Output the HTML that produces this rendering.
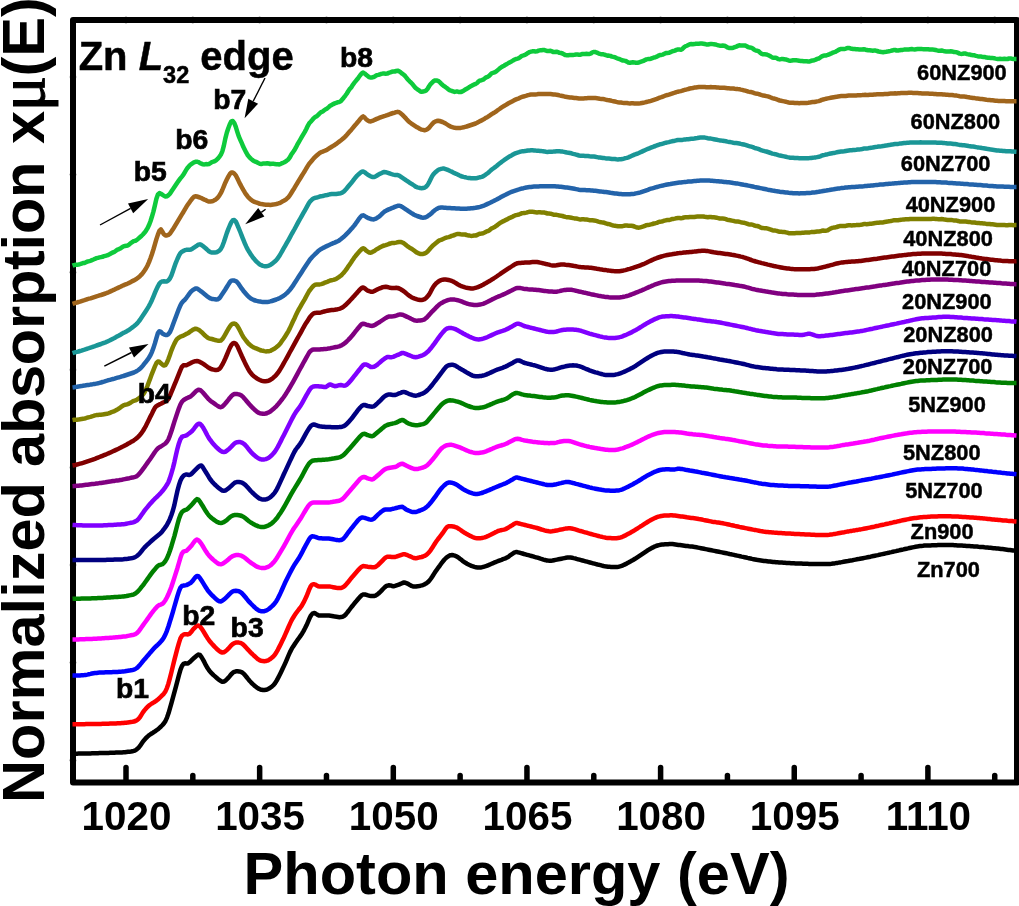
<!DOCTYPE html>
<html lang="en"><head><meta charset="utf-8"><title>Zn L32 edge XANES</title>
<style>
html,body{margin:0;padding:0;background:#fff;}
body{width:1019px;height:906px;overflow:hidden;}
svg{display:block;}
text{font-family:"Liberation Sans",Arial,Helvetica,sans-serif;font-weight:700;fill:#000;}
.tick{font-size:40.4px;text-anchor:middle;}
.ttl{font-size:59.55px;}
.lab{font-size:21.8px;stroke:#000;stroke-width:0.45px;}
.pk{font-size:28.3px;stroke:#000;stroke-width:0.7px;}
.curve{fill:none;stroke-linejoin:round;stroke-linecap:butt;}
</style></head><body>
<svg width="1019" height="906" viewBox="0 0 1019 906">
<rect x="0" y="0" width="1019" height="906" fill="#fff"/>
<rect x="73.0" y="20.0" width="944.0" height="762.6" fill="none" stroke="#000" stroke-width="6" stroke-linejoin="round"/>
<g stroke="#000" stroke-width="5.5" stroke-linecap="round"><line x1="126.00" y1="767.5" x2="126.00" y2="781" /><line x1="192.82" y1="775.5" x2="192.82" y2="781" /><line x1="259.65" y1="767.5" x2="259.65" y2="781" /><line x1="326.47" y1="775.5" x2="326.47" y2="781" /><line x1="393.30" y1="767.5" x2="393.30" y2="781" /><line x1="460.12" y1="775.5" x2="460.12" y2="781" /><line x1="526.95" y1="767.5" x2="526.95" y2="781" /><line x1="593.78" y1="775.5" x2="593.78" y2="781" /><line x1="660.60" y1="767.5" x2="660.60" y2="781" /><line x1="727.43" y1="775.5" x2="727.43" y2="781" /><line x1="794.25" y1="767.5" x2="794.25" y2="781" /><line x1="861.08" y1="775.5" x2="861.08" y2="781" /><line x1="927.90" y1="767.5" x2="927.90" y2="781" /><line x1="994.73" y1="775.5" x2="994.73" y2="781" /></g>
<g fill="#000"><circle cx="126.00" cy="20" r="3.2"/><circle cx="192.82" cy="20" r="3.2"/><circle cx="259.65" cy="20" r="3.2"/><circle cx="326.48" cy="20" r="3.2"/><circle cx="393.30" cy="20" r="3.2"/><circle cx="460.12" cy="20" r="3.2"/><circle cx="526.95" cy="20" r="3.2"/><circle cx="593.78" cy="20" r="3.2"/><circle cx="660.60" cy="20" r="3.2"/><circle cx="727.43" cy="20" r="3.2"/><circle cx="794.25" cy="20" r="3.2"/><circle cx="861.08" cy="20" r="3.2"/><circle cx="927.90" cy="20" r="3.2"/><circle cx="994.73" cy="20" r="3.2"/><circle cx="73" cy="77.0" r="3.2"/><circle cx="73" cy="174.6" r="3.2"/><circle cx="73" cy="272.2" r="3.2"/><circle cx="73" cy="369.8" r="3.2"/><circle cx="73" cy="467.4" r="3.2"/><circle cx="73" cy="565.0" r="3.2"/><circle cx="73" cy="662.6" r="3.2"/><circle cx="73" cy="760.2" r="3.2"/></g>
<path class="curve" d="M72.5,753.8 74.0,753.7 75.5,753.7 77.0,753.7 78.5,753.6 80.0,753.6 81.5,753.6 83.0,753.5 84.5,753.5 86.0,753.5 87.5,753.4 89.0,753.4 90.5,753.4 92.0,753.3 93.5,753.3 95.0,753.2 96.5,753.2 98.0,753.2 99.5,753.1 101.0,753.1 102.5,753.1 104.0,753.0 105.5,753.0 107.0,752.9 108.5,752.9 110.0,752.8 111.5,752.8 113.0,752.7 114.5,752.7 116.0,752.6 117.5,752.6 119.0,752.5 120.5,752.5 122.0,752.4 123.5,752.3 125.0,752.2 126.5,752.0 128.0,751.8 129.5,751.7 131.0,751.5 132.5,751.2 134.0,750.9 135.5,750.2 137.0,749.1 138.5,747.8 140.0,745.9 141.5,743.7 143.0,741.4 144.5,739.7 146.0,738.0 147.5,736.6 149.0,735.3 150.5,734.2 152.0,733.3 153.5,732.3 155.0,731.4 156.5,730.3 158.0,729.2 159.5,727.9 161.0,726.5 162.5,725.0 164.0,723.2 165.5,720.9 167.0,717.6 168.5,713.3 170.0,708.2 171.5,702.8 173.0,697.3 174.5,691.8 176.0,686.3 177.5,680.6 179.0,674.9 180.5,669.6 182.0,665.9 183.5,663.9 185.0,663.3 186.5,663.5 188.0,663.4 189.5,662.3 191.0,660.9 192.5,659.4 194.0,658.0 195.5,656.7 197.0,655.4 198.5,654.6 200.0,655.0 201.5,657.1 203.0,659.6 204.5,662.4 206.0,665.4 207.5,668.1 209.0,670.3 210.5,672.1 212.0,673.6 213.5,675.1 215.0,676.4 216.5,677.7 218.0,679.0 219.5,680.2 221.0,681.2 222.5,681.8 224.0,681.5 225.5,680.6 227.0,679.2 228.5,677.7 230.0,675.8 231.5,674.0 233.0,672.6 234.5,671.8 236.0,671.3 237.5,671.2 239.0,671.4 240.5,671.7 242.0,672.4 243.5,673.5 245.0,675.1 246.5,677.0 248.0,678.9 249.5,680.7 251.0,682.3 252.5,683.8 254.0,685.2 255.5,686.5 257.0,687.6 258.5,688.6 260.0,689.3 261.5,689.8 263.0,690.0 264.5,690.0 266.0,689.8 267.5,689.3 269.0,688.5 270.5,687.6 272.0,686.4 273.5,685.1 275.0,683.3 276.5,680.9 278.0,678.1 279.5,675.2 281.0,672.2 282.5,669.1 284.0,665.9 285.5,662.6 287.0,659.1 288.5,655.5 290.0,652.1 291.5,649.2 293.0,646.7 294.5,644.4 296.0,642.3 297.5,640.1 299.0,638.0 300.5,635.9 302.0,633.7 303.5,631.1 305.0,628.3 306.5,625.3 308.0,621.9 309.5,618.3 311.0,615.4 312.5,613.6 314.0,613.0 315.5,613.5 317.0,614.5 318.5,615.4 320.0,615.6 321.5,615.6 323.0,615.6 324.5,615.6 326.0,615.5 327.5,615.5 329.0,615.6 330.5,615.8 332.0,616.0 333.5,616.3 335.0,616.6 336.5,616.8 338.0,617.0 339.5,617.2 341.0,617.1 342.5,616.8 344.0,616.0 345.5,614.7 347.0,612.9 348.5,611.0 350.0,609.0 351.5,607.0 353.0,605.2 354.5,603.3 356.0,601.6 357.5,599.8 359.0,598.0 360.5,596.4 362.0,595.0 363.5,594.4 365.0,594.5 366.5,594.9 368.0,595.4 369.5,595.7 371.0,595.9 372.5,596.1 374.0,596.1 375.5,595.7 377.0,594.7 378.5,593.5 380.0,592.1 381.5,590.6 383.0,589.0 384.5,587.5 386.0,586.2 387.5,585.6 389.0,585.3 390.5,585.4 392.0,586.0 393.5,586.3 395.0,585.9 396.5,585.4 398.0,584.9 399.5,584.3 401.0,583.7 402.5,583.0 404.0,582.5 405.5,582.8 407.0,583.4 408.5,584.1 410.0,585.1 411.5,585.9 413.0,586.4 414.5,586.5 416.0,586.4 417.5,586.2 419.0,586.0 420.5,585.7 422.0,585.3 423.5,584.8 425.0,584.1 426.5,583.3 428.0,582.1 429.5,580.5 431.0,578.5 432.5,576.3 434.0,573.9 435.5,571.6 437.0,569.4 438.5,567.3 440.0,565.3 441.5,563.2 443.0,561.3 444.5,559.5 446.0,558.0 447.5,556.8 449.0,555.8 450.5,555.2 452.0,555.1 453.5,555.3 455.0,555.7 456.5,556.4 458.0,557.3 459.5,558.4 461.0,559.6 462.5,560.8 464.0,561.8 465.5,562.8 467.0,563.7 468.5,564.5 470.0,565.2 471.5,565.9 473.0,566.4 474.5,566.9 476.0,567.3 477.5,567.5 479.0,567.6 480.5,567.4 482.0,567.2 483.5,566.8 485.0,566.4 486.5,565.9 488.0,565.3 489.5,564.7 491.0,564.0 492.5,563.4 494.0,562.7 495.5,562.1 497.0,561.5 498.5,560.9 500.0,560.3 501.5,559.8 503.0,559.2 504.5,558.7 506.0,558.1 507.5,557.3 509.0,556.3 510.5,555.1 512.0,554.1 513.5,553.1 515.0,552.3 516.5,551.9 518.0,552.3 519.5,552.7 521.0,553.1 522.5,553.5 524.0,554.0 525.5,554.4 527.0,554.8 528.5,555.2 530.0,555.6 531.5,556.0 533.0,556.4 534.5,556.9 536.0,557.3 537.5,557.7 539.0,558.2 540.5,558.7 542.0,559.1 543.5,559.6 545.0,560.0 546.5,560.4 548.0,560.6 549.5,560.7 551.0,560.7 552.5,560.5 554.0,560.2 555.5,559.9 557.0,559.6 558.5,559.3 560.0,559.0 561.5,558.7 563.0,558.4 564.5,558.1 566.0,557.8 567.5,557.6 569.0,557.5 570.5,557.5 572.0,557.7 573.5,558.1 575.0,558.4 576.5,558.9 578.0,559.3 579.5,559.7 581.0,560.1 582.5,560.5 584.0,560.9 585.5,561.3 587.0,561.7 588.5,562.1 590.0,562.5 591.5,562.9 593.0,563.3 594.5,563.7 596.0,564.1 597.5,564.5 599.0,564.8 600.5,565.2 602.0,565.6 603.5,566.0 605.0,566.3 606.5,566.5 608.0,566.7 609.5,566.8 611.0,566.9 612.5,567.0 614.0,567.0 615.5,567.0 617.0,566.9 618.5,566.7 620.0,566.4 621.5,565.9 623.0,565.3 624.5,564.6 626.0,563.9 627.5,563.1 629.0,562.3 630.5,561.4 632.0,560.6 633.5,559.7 635.0,558.8 636.5,557.8 638.0,556.8 639.5,555.8 641.0,554.8 642.5,553.8 644.0,552.8 645.5,551.8 647.0,550.8 648.5,549.9 650.0,549.0 651.5,548.1 653.0,547.4 654.5,546.6 656.0,546.0 657.5,545.5 659.0,545.1 660.5,544.8 662.0,544.6 663.5,544.4 665.0,544.3 666.5,544.2 668.0,544.2 669.5,544.1 671.0,544.1 672.5,544.1 674.0,544.3 675.5,544.5 677.0,544.7 678.5,544.9 680.0,545.1 681.5,545.3 683.0,545.5 684.5,545.7 686.0,545.9 687.5,546.1 689.0,546.3 690.5,546.4 692.0,546.6 693.5,546.8 695.0,547.1 696.5,547.3 698.0,547.6 699.5,547.9 701.0,548.2 702.5,548.5 704.0,548.8 705.5,549.1 707.0,549.4 708.5,549.7 710.0,550.0 711.5,550.3 713.0,550.6 714.5,550.9 716.0,551.2 717.5,551.5 719.0,551.8 720.5,552.1 722.0,552.4 723.5,552.7 725.0,553.0 726.5,553.3 728.0,553.6 729.5,554.0 731.0,554.3 732.5,554.6 734.0,554.9 735.5,555.3 737.0,555.6 738.5,555.9 740.0,556.2 741.5,556.6 743.0,556.9 744.5,557.2 746.0,557.5 747.5,557.9 749.0,558.2 750.5,558.5 752.0,558.9 753.5,559.2 755.0,559.5 756.5,559.8 758.0,560.1 759.5,560.3 761.0,560.5 762.5,560.7 764.0,560.9 765.5,561.0 767.0,561.2 768.5,561.4 770.0,561.5 771.5,561.7 773.0,561.9 774.5,562.0 776.0,562.2 777.5,562.3 779.0,562.4 780.5,562.5 782.0,562.6 783.5,562.7 785.0,562.8 786.5,562.9 788.0,563.0 789.5,563.1 791.0,563.2 792.5,563.2 794.0,563.3 795.5,563.4 797.0,563.5 798.5,563.5 800.0,563.6 801.5,563.6 803.0,563.7 804.5,563.7 806.0,563.8 807.5,563.8 809.0,563.9 810.5,563.9 812.0,563.9 813.5,563.9 815.0,564.0 816.5,564.0 818.0,564.0 819.5,564.0 821.0,564.0 822.5,564.1 824.0,564.1 825.5,564.1 827.0,564.1 828.5,564.0 830.0,563.9 831.5,563.8 833.0,563.6 834.5,563.4 836.0,563.1 837.5,562.9 839.0,562.6 840.5,562.4 842.0,562.1 843.5,561.8 845.0,561.5 846.5,561.2 848.0,561.0 849.5,560.7 851.0,560.4 852.5,560.2 854.0,559.9 855.5,559.6 857.0,559.3 858.5,559.1 860.0,558.8 861.5,558.5 863.0,558.2 864.5,557.9 866.0,557.6 867.5,557.3 869.0,557.0 870.5,556.7 872.0,556.3 873.5,556.0 875.0,555.7 876.5,555.4 878.0,555.1 879.5,554.7 881.0,554.4 882.5,554.1 884.0,553.8 885.5,553.4 887.0,553.1 888.5,552.8 890.0,552.4 891.5,552.1 893.0,551.7 894.5,551.4 896.0,551.1 897.5,550.7 899.0,550.4 900.5,550.0 902.0,549.7 903.5,549.4 905.0,549.0 906.5,548.7 908.0,548.4 909.5,548.0 911.0,547.7 912.5,547.4 914.0,547.1 915.5,546.8 917.0,546.6 918.5,546.3 920.0,546.1 921.5,545.9 923.0,545.8 924.5,545.6 926.0,545.5 927.5,545.5 929.0,545.4 930.5,545.4 932.0,545.3 933.5,545.3 935.0,545.2 936.5,545.2 938.0,545.1 939.5,545.1 941.0,545.0 942.5,545.0 944.0,545.0 945.5,545.0 947.0,545.0 948.5,545.0 950.0,545.0 951.5,545.1 953.0,545.1 954.5,545.2 956.0,545.3 957.5,545.4 959.0,545.4 960.5,545.5 962.0,545.6 963.5,545.7 965.0,545.8 966.5,545.9 968.0,546.0 969.5,546.1 971.0,546.2 972.5,546.3 974.0,546.4 975.5,546.5 977.0,546.6 978.5,546.8 980.0,546.9 981.5,547.0 983.0,547.1 984.5,547.3 986.0,547.4 987.5,547.5 989.0,547.7 990.5,547.8 992.0,548.0 993.5,548.2 995.0,548.3 996.5,548.5 998.0,548.6 999.5,548.8 1001.0,549.0 1002.5,549.1 1004.0,549.3 1005.5,549.5 1007.0,549.7 1008.5,549.9 1010.0,550.0 1011.5,550.2 1013.0,550.4 1014.5,550.6 1016.0,550.8" stroke="#000000" stroke-width="4.5"/>
<path class="curve" d="M72.5,724.2 74.0,724.2 75.5,724.2 77.0,724.2 78.5,724.2 80.0,724.2 81.5,724.2 83.0,724.2 84.5,724.2 86.0,724.1 87.5,724.1 89.0,724.1 90.5,724.1 92.0,724.0 93.5,724.0 95.0,724.0 96.5,724.0 98.0,723.9 99.5,723.9 101.0,723.9 102.5,723.8 104.0,723.8 105.5,723.8 107.0,723.7 108.5,723.7 110.0,723.6 111.5,723.6 113.0,723.5 114.5,723.4 116.0,723.4 117.5,723.3 119.0,723.3 120.4,723.2 121.9,723.1 123.4,723.0 124.9,722.8 126.4,722.7 127.9,722.4 129.4,722.2 130.9,722.0 132.4,721.8 133.9,721.5 135.4,721.0 136.9,720.2 138.4,719.0 139.9,717.3 141.4,714.9 142.9,712.4 144.4,710.4 145.9,708.6 147.4,707.0 148.9,705.6 150.4,704.5 151.9,703.5 153.4,702.6 154.9,701.7 156.4,700.6 157.9,699.5 159.4,698.1 160.9,696.7 162.4,695.2 163.9,693.6 165.4,691.4 166.9,688.1 168.4,683.7 169.9,678.2 171.4,672.2 172.9,666.0 174.4,659.9 175.9,654.1 177.4,648.4 178.9,643.1 180.4,638.4 181.9,635.8 183.4,634.7 184.9,634.2 186.4,634.3 187.9,634.4 189.4,633.9 190.9,632.3 192.4,630.3 193.9,628.6 195.4,627.1 196.9,625.8 198.4,625.4 199.9,626.3 201.4,628.3 202.9,630.6 204.4,633.0 205.9,635.5 207.4,637.9 208.9,640.1 210.4,642.1 211.9,643.8 213.4,645.4 214.8,646.9 216.3,648.3 217.8,649.8 219.3,651.1 220.8,652.0 222.3,652.5 223.8,652.3 225.3,651.4 226.8,650.1 228.3,648.7 229.8,647.0 231.3,645.3 232.8,644.0 234.3,643.1 235.8,642.6 237.3,642.5 238.8,642.6 240.3,642.9 241.8,643.5 243.3,644.6 244.8,646.1 246.3,647.7 247.8,649.4 249.3,651.0 250.8,652.6 252.3,654.0 253.8,655.5 255.3,656.8 256.8,658.2 258.3,659.4 259.8,660.3 261.3,660.8 262.8,661.1 264.3,661.2 265.8,661.1 267.3,660.7 268.8,659.9 270.3,659.0 271.8,657.8 273.3,656.5 274.8,654.8 276.3,652.5 277.8,649.8 279.3,646.9 280.8,643.9 282.3,640.8 283.8,637.7 285.3,634.4 286.8,631.0 288.3,627.5 289.8,624.1 291.3,620.9 292.8,618.2 294.3,615.8 295.8,613.6 297.3,611.5 298.8,609.5 300.3,607.7 301.8,605.6 303.3,602.9 304.8,599.9 306.3,596.8 307.8,593.2 309.2,589.4 310.7,586.3 312.2,584.6 313.7,584.2 315.2,584.6 316.7,585.4 318.2,586.2 319.7,586.5 321.2,586.5 322.7,586.5 324.2,586.5 325.7,586.4 327.2,586.4 328.7,586.5 330.2,586.6 331.7,586.9 333.2,587.2 334.7,587.5 336.2,587.8 337.7,588.0 339.2,588.1 340.7,588.0 342.2,587.6 343.7,586.8 345.2,585.5 346.7,583.8 348.2,582.0 349.7,580.1 351.2,578.2 352.7,576.4 354.2,574.7 355.7,573.0 357.2,571.3 358.7,569.6 360.2,568.0 361.7,566.8 363.2,566.1 364.7,566.2 366.2,566.4 367.7,566.7 369.2,566.9 370.7,567.1 372.2,567.3 373.7,567.3 375.2,567.0 376.7,566.1 378.2,564.9 379.7,563.4 381.2,561.9 382.7,560.4 384.2,558.8 385.7,557.5 387.2,556.8 388.7,556.7 390.2,556.7 391.7,556.9 393.2,557.1 394.7,557.1 396.2,556.7 397.7,556.1 399.2,555.6 400.7,555.1 402.2,554.6 403.6,554.2 405.1,554.3 406.6,554.8 408.1,555.5 409.6,556.1 411.1,556.8 412.6,557.5 414.1,558.1 415.6,558.3 417.1,558.0 418.6,557.6 420.1,557.3 421.6,557.0 423.1,556.5 424.6,555.9 426.1,555.1 427.6,553.8 429.1,552.2 430.6,550.3 432.1,548.1 433.6,545.6 435.1,543.2 436.6,541.0 438.1,539.0 439.6,537.1 441.1,535.2 442.6,533.2 444.1,531.0 445.6,528.8 447.1,527.1 448.6,526.3 450.1,526.2 451.6,526.3 453.1,526.5 454.6,526.8 456.1,527.3 457.6,528.1 459.1,529.0 460.6,530.0 462.1,531.1 463.6,532.1 465.1,533.1 466.6,533.9 468.1,534.8 469.6,535.6 471.1,536.3 472.6,537.0 474.1,537.6 475.6,538.0 477.1,538.2 478.6,538.3 480.1,538.2 481.6,538.0 483.1,537.7 484.6,537.3 486.1,536.8 487.6,536.2 489.1,535.5 490.6,534.8 492.1,534.0 493.6,533.2 495.1,532.4 496.6,531.7 498.0,531.0 499.5,530.6 501.0,530.2 502.5,529.9 504.0,529.6 505.5,529.1 507.0,528.4 508.5,527.5 510.0,526.5 511.5,525.6 513.0,524.7 514.5,523.7 516.0,523.0 517.5,523.1 519.0,523.5 520.5,523.9 522.0,524.3 523.5,524.6 525.0,525.0 526.5,525.4 528.0,525.8 529.5,526.1 531.0,526.5 532.5,526.9 534.0,527.3 535.5,527.6 537.0,528.0 538.5,528.5 540.0,529.0 541.5,529.5 543.0,529.9 544.5,530.4 546.0,530.8 547.5,531.1 549.0,531.3 550.5,531.4 552.0,531.3 553.5,531.1 555.0,530.8 556.5,530.5 558.0,530.2 559.5,529.8 561.0,529.6 562.5,529.3 564.0,528.9 565.5,528.6 567.0,528.4 568.5,528.3 570.0,528.3 571.5,528.5 573.0,528.8 574.5,529.2 576.0,529.6 577.5,530.1 579.0,530.6 580.5,531.0 582.0,531.4 583.5,531.9 585.0,532.3 586.5,532.7 588.0,533.2 589.5,533.6 591.0,534.0 592.4,534.4 593.9,534.8 595.4,535.2 596.9,535.6 598.4,536.0 599.9,536.4 601.4,536.7 602.9,537.1 604.4,537.4 605.9,537.7 607.4,537.9 608.9,538.0 610.4,538.1 611.9,538.2 613.4,538.2 614.9,538.3 616.4,538.2 617.9,538.0 619.4,537.8 620.9,537.4 622.4,536.8 623.9,536.1 625.4,535.4 626.9,534.6 628.4,533.8 629.9,533.0 631.4,532.1 632.9,531.3 634.4,530.4 635.9,529.4 637.4,528.5 638.9,527.5 640.4,526.5 641.9,525.6 643.4,524.6 644.9,523.6 646.4,522.7 647.9,521.8 649.4,520.9 650.9,520.0 652.4,519.2 653.9,518.5 655.4,517.8 656.9,517.2 658.4,516.7 659.9,516.3 661.4,516.0 662.9,515.8 664.4,515.6 665.9,515.5 667.4,515.4 668.9,515.4 670.4,515.3 671.9,515.3 673.4,515.5 674.9,515.6 676.4,515.8 677.9,516.0 679.4,516.2 680.9,516.4 682.4,516.6 683.9,516.8 685.4,517.0 686.8,517.3 688.3,517.5 689.8,517.7 691.3,517.9 692.8,518.1 694.3,518.3 695.8,518.5 697.3,518.7 698.8,519.0 700.3,519.2 701.8,519.5 703.3,519.9 704.8,520.2 706.3,520.5 707.8,520.8 709.3,521.1 710.8,521.4 712.3,521.7 713.8,521.9 715.3,522.1 716.8,522.4 718.3,522.6 719.8,522.8 721.3,523.1 722.8,523.3 724.3,523.6 725.8,523.9 727.3,524.2 728.8,524.5 730.3,524.9 731.8,525.2 733.3,525.5 734.8,525.9 736.3,526.2 737.8,526.5 739.3,526.9 740.8,527.2 742.3,527.5 743.8,527.8 745.3,528.1 746.8,528.4 748.3,528.7 749.8,529.0 751.3,529.3 752.8,529.6 754.3,529.9 755.8,530.1 757.3,530.4 758.8,530.7 760.3,531.0 761.8,531.2 763.3,531.5 764.8,531.7 766.3,531.9 767.8,532.0 769.3,532.2 770.8,532.3 772.3,532.4 773.8,532.6 775.3,532.7 776.8,532.8 778.3,532.9 779.8,533.0 781.2,533.1 782.7,533.2 784.2,533.3 785.7,533.4 787.2,533.4 788.7,533.5 790.2,533.6 791.7,533.7 793.2,533.8 794.7,533.9 796.2,533.9 797.7,534.0 799.2,534.1 800.7,534.2 802.2,534.3 803.7,534.3 805.2,534.4 806.7,534.5 808.2,534.6 809.7,534.6 811.2,534.7 812.7,534.8 814.2,534.8 815.7,534.9 817.2,534.9 818.7,535.0 820.2,535.0 821.7,535.1 823.2,535.1 824.7,535.1 826.2,535.0 827.7,534.9 829.2,534.8 830.7,534.6 832.2,534.4 833.7,534.1 835.2,533.9 836.7,533.6 838.2,533.3 839.7,533.0 841.2,532.7 842.7,532.4 844.2,532.2 845.7,531.9 847.2,531.6 848.7,531.4 850.2,531.1 851.7,530.9 853.2,530.6 854.7,530.4 856.2,530.1 857.7,529.9 859.2,529.6 860.7,529.4 862.2,529.1 863.7,528.8 865.2,528.5 866.7,528.2 868.2,527.9 869.7,527.6 871.2,527.3 872.7,527.0 874.2,526.7 875.6,526.3 877.1,526.0 878.6,525.7 880.1,525.3 881.6,525.0 883.1,524.7 884.6,524.4 886.1,524.0 887.6,523.7 889.1,523.4 890.6,523.0 892.1,522.7 893.6,522.3 895.1,522.0 896.6,521.7 898.1,521.3 899.6,521.0 901.1,520.6 902.6,520.3 904.1,520.0 905.6,519.7 907.1,519.4 908.6,519.1 910.1,518.8 911.6,518.5 913.1,518.3 914.6,518.1 916.1,517.9 917.6,517.7 919.1,517.5 920.6,517.3 922.1,517.2 923.6,517.1 925.1,517.0 926.6,516.9 928.1,516.8 929.6,516.7 931.1,516.6 932.6,516.6 934.1,516.5 935.6,516.4 937.1,516.4 938.6,516.3 940.1,516.3 941.6,516.2 943.1,516.2 944.6,516.2 946.1,516.2 947.6,516.2 949.1,516.3 950.6,516.3 952.1,516.4 953.6,516.4 955.1,516.5 956.6,516.6 958.1,516.6 959.6,516.7 961.1,516.8 962.6,516.9 964.1,517.0 965.6,517.1 967.1,517.2 968.6,517.3 970.0,517.4 971.5,517.5 973.0,517.6 974.5,517.7 976.0,517.8 977.5,517.9 979.0,518.0 980.5,518.2 982.0,518.3 983.5,518.4 985.0,518.6 986.5,518.7 988.0,518.9 989.5,519.0 991.0,519.2 992.5,519.4 994.0,519.5 995.5,519.7 997.0,519.8 998.5,520.0 1000.0,520.1 1001.5,520.2 1003.0,520.4 1004.5,520.5 1006.0,520.6 1007.5,520.8 1009.0,520.9 1010.5,521.0 1012.0,521.1 1013.5,521.3 1015.0,521.4 1016.5,521.5" stroke="#ff0000" stroke-width="4.5"/>
<path class="curve" d="M72.5,675.5 74.0,675.5 75.5,675.6 77.0,675.6 78.5,675.5 80.0,675.4 81.5,675.3 83.0,675.2 84.5,675.1 86.0,674.9 87.5,674.6 89.0,674.2 90.5,673.9 92.0,673.5 93.5,673.2 95.0,673.0 96.5,672.9 98.0,672.7 99.5,672.6 101.0,672.5 102.5,672.5 104.0,672.4 105.5,672.3 107.0,672.3 108.5,672.2 110.0,672.2 111.5,672.2 113.0,672.1 114.5,672.0 116.0,672.0 117.5,671.9 119.0,671.8 120.4,671.7 121.9,671.6 123.4,671.4 124.9,671.3 126.4,671.0 127.9,670.8 129.4,670.6 130.9,670.3 132.4,670.0 133.9,669.6 135.4,669.0 136.9,668.0 138.4,666.6 139.9,664.9 141.4,663.1 142.9,661.2 144.4,659.4 145.9,657.7 147.4,655.9 148.9,654.2 150.4,652.4 151.9,650.7 153.4,649.0 154.9,647.4 156.4,646.0 157.9,644.6 159.4,643.1 160.9,641.5 162.4,639.7 163.9,637.4 165.4,634.5 166.9,630.8 168.4,626.5 169.9,621.7 171.4,616.8 172.9,611.8 174.4,606.5 175.9,601.3 177.4,596.2 178.9,591.4 180.4,587.7 181.9,586.0 183.4,585.6 184.9,585.4 186.4,585.1 187.9,584.4 189.4,583.6 190.9,582.7 192.4,581.2 193.9,579.1 195.4,577.3 196.9,576.0 198.4,576.3 199.9,578.0 201.4,580.2 202.9,582.6 204.4,585.1 205.9,587.5 207.4,589.8 208.9,591.8 210.4,593.5 211.9,595.1 213.4,596.5 214.8,597.9 216.3,599.2 217.8,600.4 219.3,601.2 220.8,601.4 222.3,600.7 223.8,599.7 225.3,598.3 226.8,596.9 228.3,595.4 229.8,593.8 231.3,592.4 232.8,591.4 234.3,590.9 235.8,590.7 237.3,590.9 238.8,591.2 240.3,592.0 241.8,593.1 243.3,594.7 244.8,596.5 246.3,598.3 247.8,600.2 249.3,601.9 250.8,603.5 252.3,605.0 253.8,606.5 255.3,607.9 256.8,609.2 258.3,610.2 259.8,610.9 261.3,611.2 262.8,611.3 264.3,611.2 265.8,610.7 267.3,610.0 268.8,609.0 270.3,607.7 271.8,606.4 273.3,605.0 274.8,603.3 276.3,601.2 277.8,598.6 279.3,595.6 280.8,592.4 282.3,589.0 283.8,585.6 285.3,582.3 286.8,579.2 288.3,576.2 289.8,573.3 291.3,570.4 292.8,567.7 294.3,565.0 295.8,562.8 297.3,560.6 298.8,558.3 300.3,555.7 301.8,552.9 303.3,549.9 304.8,547.1 306.3,544.3 307.8,541.7 309.2,539.2 310.7,537.2 312.2,536.3 313.7,536.4 315.2,536.8 316.7,537.4 318.2,538.0 319.7,538.2 321.2,538.3 322.7,538.4 324.2,538.4 325.7,538.4 327.2,538.5 328.7,538.6 330.2,538.8 331.7,539.0 333.2,539.3 334.7,539.6 336.2,539.9 337.7,540.1 339.2,540.2 340.7,540.1 342.2,539.6 343.7,538.4 345.2,536.6 346.7,534.6 348.2,532.5 349.7,530.6 351.2,528.7 352.7,526.8 354.2,524.9 355.7,523.1 357.2,521.3 358.7,519.6 360.2,518.3 361.7,517.6 363.2,517.6 364.7,517.9 366.2,518.4 367.7,518.8 369.2,519.3 370.7,519.7 372.2,519.6 373.7,518.8 375.2,517.3 376.7,515.8 378.2,514.4 379.7,513.1 381.2,511.8 382.7,510.7 384.2,509.8 385.7,509.5 387.2,509.5 388.7,509.6 390.2,509.5 391.7,509.1 393.2,508.7 394.7,508.4 396.2,508.0 397.7,507.6 399.2,507.2 400.7,506.9 402.2,506.8 403.6,507.6 405.1,508.8 406.6,509.7 408.1,510.4 409.6,511.0 411.1,511.6 412.6,512.0 414.1,512.1 415.6,512.0 417.1,511.6 418.6,511.0 420.1,510.5 421.6,509.9 423.1,509.2 424.6,508.5 426.1,507.4 427.6,506.1 429.1,504.5 430.6,502.8 432.1,500.9 433.6,498.9 435.1,496.9 436.6,494.7 438.1,492.6 439.6,490.5 441.1,488.6 442.6,487.0 444.1,485.5 445.6,484.2 447.1,483.2 448.6,482.6 450.1,482.5 451.6,482.7 453.1,483.1 454.6,483.7 456.1,484.4 457.6,485.3 459.1,486.4 460.6,487.4 462.1,488.5 463.6,489.4 465.1,490.2 466.6,491.0 468.1,491.7 469.6,492.4 471.1,492.9 472.6,493.4 474.1,493.8 475.6,494.0 477.1,494.0 478.6,493.8 480.1,493.4 481.6,493.0 483.1,492.5 484.6,491.9 486.1,491.3 487.6,490.7 489.1,490.1 490.6,489.4 492.1,488.8 493.6,488.1 495.1,487.5 496.6,486.9 498.0,486.3 499.5,485.7 501.0,485.1 502.5,484.5 504.0,483.9 505.5,483.3 507.0,482.6 508.5,481.8 510.0,480.9 511.5,480.0 513.0,479.2 514.5,478.2 516.0,477.5 517.5,477.6 519.0,478.0 520.5,478.4 522.0,478.8 523.5,479.1 525.0,479.5 526.5,479.9 528.0,480.3 529.5,480.6 531.0,481.0 532.5,481.4 534.0,481.8 535.5,482.1 537.0,482.5 538.5,482.9 540.0,483.3 541.5,483.6 543.0,484.0 544.5,484.4 546.0,484.7 547.5,485.0 549.0,485.1 550.5,485.1 552.0,485.1 553.5,484.8 555.0,484.5 556.5,484.2 558.0,483.8 559.5,483.4 561.0,483.1 562.5,482.7 564.0,482.4 565.5,482.1 567.0,481.9 568.5,482.0 570.0,482.3 571.5,482.6 573.0,483.0 574.5,483.3 576.0,483.8 577.5,484.2 579.0,484.6 580.5,485.0 582.0,485.4 583.5,485.8 585.0,486.2 586.5,486.6 588.0,487.0 589.5,487.4 591.0,487.7 592.4,488.1 593.9,488.4 595.4,488.7 596.9,489.0 598.4,489.3 599.9,489.6 601.4,489.8 602.9,490.1 604.4,490.3 605.9,490.4 607.4,490.6 608.9,490.6 610.4,490.7 611.9,490.7 613.4,490.8 614.9,490.7 616.4,490.6 617.9,490.5 619.4,490.2 620.9,489.8 622.4,489.3 623.9,488.7 625.4,488.0 626.9,487.3 628.4,486.6 629.9,485.8 631.4,485.0 632.9,484.2 634.4,483.3 635.9,482.5 637.4,481.6 638.9,480.7 640.4,479.8 641.9,478.8 643.4,477.9 644.9,477.0 646.4,476.1 647.9,475.3 649.4,474.5 650.9,473.7 652.4,472.9 653.9,472.2 655.4,471.6 656.9,471.0 658.4,470.5 659.9,470.0 661.4,469.7 662.9,469.5 664.4,469.4 665.9,469.3 667.4,469.2 668.9,469.3 670.4,469.4 671.9,469.5 673.4,469.5 674.9,469.4 676.4,469.1 677.9,468.8 679.4,468.7 680.9,468.9 682.4,469.1 683.9,469.4 685.4,469.7 686.8,469.9 688.3,470.2 689.8,470.5 691.3,470.7 692.8,471.0 694.3,471.3 695.8,471.6 697.3,471.8 698.8,472.1 700.3,472.4 701.8,472.7 703.3,472.9 704.8,473.2 706.3,473.5 707.8,473.8 709.3,474.1 710.8,474.4 712.3,474.7 713.8,475.0 715.3,475.3 716.8,475.6 718.3,475.9 719.8,476.2 721.3,476.5 722.8,476.8 724.3,477.0 725.8,477.3 727.3,477.5 728.8,477.8 730.3,478.1 731.8,478.3 733.3,478.5 734.8,478.8 736.3,479.0 737.8,479.2 739.3,479.5 740.8,479.7 742.3,480.0 743.8,480.2 745.3,480.5 746.8,480.8 748.3,481.1 749.8,481.4 751.3,481.8 752.8,482.1 754.3,482.4 755.8,482.6 757.3,482.9 758.8,483.2 760.3,483.4 761.8,483.7 763.3,483.9 764.8,484.1 766.3,484.3 767.8,484.5 769.3,484.7 770.8,484.9 772.3,485.0 773.8,485.1 775.3,485.2 776.8,485.3 778.3,485.4 779.8,485.5 781.2,485.6 782.7,485.6 784.2,485.7 785.7,485.8 787.2,485.8 788.7,485.9 790.2,485.9 791.7,486.0 793.2,486.0 794.7,486.1 796.2,486.1 797.7,486.1 799.2,486.1 800.7,486.2 802.2,486.2 803.7,486.2 805.2,486.3 806.7,486.3 808.2,486.3 809.7,486.4 811.2,486.5 812.7,486.5 814.2,486.6 815.7,486.6 817.2,486.7 818.7,486.7 820.2,486.8 821.7,486.8 823.2,486.8 824.7,486.8 826.2,486.8 827.7,486.7 829.2,486.6 830.7,486.4 832.2,486.1 833.7,485.8 835.2,485.6 836.7,485.3 838.2,484.9 839.7,484.6 841.2,484.3 842.7,484.0 844.2,483.7 845.7,483.4 847.2,483.1 848.7,482.8 850.2,482.6 851.7,482.3 853.2,482.0 854.7,481.7 856.2,481.5 857.7,481.2 859.2,480.9 860.7,480.6 862.2,480.3 863.7,480.1 865.2,479.8 866.7,479.5 868.2,479.2 869.7,478.9 871.2,478.7 872.7,478.4 874.2,478.1 875.6,477.8 877.1,477.5 878.6,477.3 880.1,477.0 881.6,476.7 883.1,476.4 884.6,476.1 886.1,475.8 887.6,475.5 889.1,475.2 890.6,474.9 892.1,474.6 893.6,474.2 895.1,473.9 896.6,473.6 898.1,473.3 899.6,472.9 901.1,472.6 902.6,472.3 904.1,472.0 905.6,471.7 907.1,471.4 908.6,471.1 910.1,470.8 911.6,470.5 913.1,470.2 914.6,470.0 916.1,469.8 917.6,469.6 919.1,469.5 920.6,469.4 922.1,469.3 923.6,469.2 925.1,469.1 926.6,469.0 928.1,469.0 929.6,468.9 931.1,468.9 932.6,468.8 934.1,468.7 935.6,468.7 937.1,468.6 938.6,468.6 940.1,468.5 941.6,468.5 943.1,468.4 944.6,468.4 946.1,468.3 947.6,468.3 949.1,468.2 950.6,468.2 952.1,468.2 953.6,468.2 955.1,468.3 956.6,468.3 958.1,468.4 959.6,468.4 961.1,468.5 962.6,468.6 964.1,468.8 965.6,468.9 967.1,469.0 968.6,469.2 970.0,469.3 971.5,469.5 973.0,469.6 974.5,469.8 976.0,469.9 977.5,470.1 979.0,470.2 980.5,470.4 982.0,470.6 983.5,470.7 985.0,470.9 986.5,471.1 988.0,471.3 989.5,471.4 991.0,471.6 992.5,471.8 994.0,471.9 995.5,472.1 997.0,472.3 998.5,472.4 1000.0,472.6 1001.5,472.8 1003.0,472.9 1004.5,473.1 1006.0,473.2 1007.5,473.4 1009.0,473.5 1010.5,473.7 1012.0,473.8 1013.5,474.0 1015.0,474.1 1016.5,474.2" stroke="#0000ff" stroke-width="4.5"/>
<path class="curve" d="M72.5,639.5 74.0,639.5 75.5,639.4 77.0,639.4 78.5,639.4 80.0,639.3 81.5,639.3 83.0,639.2 84.5,639.2 86.0,639.1 87.5,639.1 89.0,639.0 90.5,638.9 92.0,638.9 93.5,638.8 95.0,638.8 96.5,638.7 98.0,638.6 99.5,638.5 101.0,638.4 102.5,638.3 104.0,638.2 105.5,638.1 107.0,638.0 108.5,637.9 110.0,637.8 111.5,637.7 113.0,637.6 114.5,637.4 116.0,637.3 117.5,637.2 119.0,637.1 120.4,637.0 121.9,636.8 123.4,636.6 124.9,636.4 126.4,636.2 127.9,635.9 129.4,635.6 130.9,635.3 132.4,635.0 133.9,634.7 135.4,634.2 136.9,633.2 138.4,631.7 139.9,629.6 141.4,627.5 142.9,625.4 144.4,623.3 145.9,621.2 147.4,619.1 148.9,617.0 150.4,614.9 151.9,612.8 153.4,610.9 154.9,609.1 156.4,607.4 157.9,605.9 159.4,605.0 160.9,604.6 162.4,603.8 163.9,602.3 165.4,600.2 166.9,597.5 168.4,594.3 169.9,590.7 171.4,586.7 172.9,582.2 174.4,577.6 175.9,572.9 177.4,568.2 178.9,563.0 180.4,557.8 181.9,553.6 183.4,551.6 184.9,551.2 186.4,550.8 187.9,549.4 189.4,547.9 190.9,546.3 192.4,544.3 193.9,542.2 195.4,540.4 196.9,539.6 198.4,540.3 199.9,541.9 201.4,543.9 202.9,546.3 204.4,548.8 205.9,551.3 207.4,553.6 208.9,555.4 210.4,557.1 211.9,558.5 213.4,559.9 214.8,561.1 216.3,562.3 217.8,563.4 219.3,564.1 220.8,564.3 222.3,563.9 223.8,563.0 225.3,561.9 226.8,560.8 228.3,559.5 229.8,558.1 231.3,556.9 232.8,556.1 234.3,555.5 235.8,555.1 237.3,555.0 238.8,555.1 240.3,555.4 241.8,555.9 243.3,556.7 244.8,557.8 246.3,559.0 247.8,560.3 249.3,561.5 250.8,562.6 252.3,563.7 253.8,564.7 255.3,565.7 256.8,566.6 258.3,567.2 259.8,567.6 261.3,567.9 262.8,568.0 264.3,568.0 265.8,567.7 267.3,567.2 268.8,566.5 270.3,565.5 271.8,564.2 273.3,562.7 274.8,560.9 276.3,558.8 277.8,556.4 279.3,553.9 280.8,551.4 282.3,548.9 283.8,546.3 285.3,543.7 286.8,540.9 288.3,538.1 289.8,535.3 291.3,532.6 292.8,530.1 294.3,527.8 295.8,525.7 297.3,523.5 298.8,521.3 300.3,519.1 301.8,516.6 303.3,514.0 304.8,511.5 306.3,509.0 307.8,506.7 309.2,504.9 310.7,503.5 312.2,502.7 313.7,502.5 315.2,502.5 316.7,502.5 318.2,502.5 319.7,502.5 321.2,502.5 322.7,502.5 324.2,502.5 325.7,502.5 327.2,502.5 328.7,502.4 330.2,502.3 331.7,502.1 333.2,501.8 334.7,501.6 336.2,501.3 337.7,501.0 339.2,500.7 340.7,500.1 342.2,499.3 343.7,497.9 345.2,496.2 346.7,494.5 348.2,492.7 349.7,491.0 351.2,489.2 352.7,487.5 354.2,485.7 355.7,484.0 357.2,482.2 358.7,480.5 360.2,478.8 361.7,477.7 363.2,477.1 364.7,477.1 366.2,477.7 367.7,478.4 369.2,478.8 370.7,479.2 372.2,479.4 373.7,478.8 375.2,477.6 376.7,476.3 378.2,475.0 379.7,473.7 381.2,472.3 382.7,470.9 384.2,469.7 385.7,468.9 387.2,468.4 388.7,468.0 390.2,467.7 391.7,467.5 393.2,467.3 394.7,467.1 396.2,466.6 397.7,465.7 399.2,464.7 400.7,463.9 402.2,463.7 403.6,464.2 405.1,465.0 406.6,465.8 408.1,466.5 409.6,467.2 411.1,467.8 412.6,468.4 414.1,468.9 415.6,469.0 417.1,469.0 418.6,468.7 420.1,468.3 421.6,467.9 423.1,467.5 424.6,466.9 426.1,466.1 427.6,464.9 429.1,463.4 430.6,461.7 432.1,460.0 433.6,458.2 435.1,456.3 436.6,454.3 438.1,452.3 439.6,450.5 441.1,448.8 442.6,447.5 444.1,446.5 445.6,445.7 447.1,445.2 448.6,444.9 450.1,444.7 451.6,444.8 453.1,445.2 454.6,445.6 456.1,446.1 457.6,446.6 459.1,447.1 460.6,447.7 462.1,448.4 463.6,449.0 465.1,449.7 466.6,450.4 468.1,451.0 469.6,451.6 471.1,452.0 472.6,452.4 474.1,452.7 475.6,452.9 477.1,453.0 478.6,453.0 480.1,452.8 481.6,452.6 483.1,452.3 484.6,451.8 486.1,451.3 487.6,450.7 489.1,450.1 490.6,449.4 492.1,448.8 493.6,448.1 495.1,447.5 496.6,446.9 498.0,446.4 499.5,445.9 501.0,445.5 502.5,445.0 504.0,444.6 505.5,444.0 507.0,443.4 508.5,442.6 510.0,441.8 511.5,441.0 513.0,440.2 514.5,439.4 516.0,438.9 517.5,438.8 519.0,439.0 520.5,439.3 522.0,439.8 523.5,440.2 525.0,440.5 526.5,440.7 528.0,441.0 529.5,441.2 531.0,441.4 532.5,441.7 534.0,441.9 535.5,442.1 537.0,442.2 538.5,442.4 540.0,442.6 541.5,442.7 543.0,442.8 544.5,443.0 546.0,443.1 547.5,443.1 549.0,443.2 550.5,443.1 552.0,443.1 553.5,443.0 555.0,442.9 556.5,442.6 558.0,442.2 559.5,441.8 561.0,441.5 562.5,441.3 564.0,441.1 565.5,440.9 567.0,440.9 568.5,441.0 570.0,441.2 571.5,441.6 573.0,442.1 574.5,442.6 576.0,443.2 577.5,443.7 579.0,444.2 580.5,444.6 582.0,445.0 583.5,445.4 585.0,445.8 586.5,446.2 588.0,446.5 589.5,446.9 591.0,447.2 592.4,447.5 593.9,447.8 595.4,448.1 596.9,448.3 598.4,448.6 599.9,448.8 601.4,449.1 602.9,449.3 604.4,449.5 605.9,449.7 607.4,449.8 608.9,449.9 610.4,450.0 611.9,450.0 613.4,450.0 614.9,449.9 616.4,449.7 617.9,449.5 619.4,449.1 620.9,448.7 622.4,448.3 623.9,447.8 625.4,447.2 626.9,446.7 628.4,446.1 629.9,445.5 631.4,444.9 632.9,444.2 634.4,443.5 635.9,442.8 637.4,442.1 638.9,441.3 640.4,440.6 641.9,439.8 643.4,439.0 644.9,438.3 646.4,437.5 647.9,436.8 649.4,436.1 650.9,435.5 652.4,434.9 653.9,434.4 655.4,433.9 656.9,433.4 658.4,433.0 659.9,432.7 661.4,432.5 662.9,432.3 664.4,432.1 665.9,432.0 667.4,432.0 668.9,432.0 670.4,432.0 671.9,432.0 673.4,432.0 674.9,432.1 676.4,432.2 677.9,432.3 679.4,432.4 680.9,432.6 682.4,432.8 683.9,433.0 685.4,433.2 686.8,433.5 688.3,433.7 689.8,433.9 691.3,434.1 692.8,434.3 694.3,434.4 695.8,434.6 697.3,434.7 698.8,434.8 700.3,435.0 701.8,435.1 703.3,435.3 704.8,435.5 706.3,435.7 707.8,435.9 709.3,436.2 710.8,436.4 712.3,436.7 713.8,437.0 715.3,437.2 716.8,437.5 718.3,437.7 719.8,438.0 721.3,438.2 722.8,438.4 724.3,438.6 725.8,438.9 727.3,439.1 728.8,439.3 730.3,439.5 731.8,439.8 733.3,440.1 734.8,440.3 736.3,440.6 737.8,440.9 739.3,441.2 740.8,441.4 742.3,441.7 743.8,442.0 745.3,442.3 746.8,442.6 748.3,442.9 749.8,443.2 751.3,443.5 752.8,443.8 754.3,444.1 755.8,444.4 757.3,444.6 758.8,444.8 760.3,445.0 761.8,445.2 763.3,445.4 764.8,445.5 766.3,445.6 767.8,445.8 769.3,445.9 770.8,446.0 772.3,446.1 773.8,446.2 775.3,446.3 776.8,446.4 778.3,446.4 779.8,446.5 781.2,446.5 782.7,446.6 784.2,446.6 785.7,446.6 787.2,446.6 788.7,446.7 790.2,446.7 791.7,446.7 793.2,446.8 794.7,446.8 796.2,446.9 797.7,446.9 799.2,447.0 800.7,447.0 802.2,447.1 803.7,447.2 805.2,447.2 806.7,447.3 808.2,447.3 809.7,447.3 811.2,447.4 812.7,447.4 814.2,447.4 815.7,447.4 817.2,447.5 818.7,447.5 820.2,447.5 821.7,447.5 823.2,447.5 824.7,447.5 826.2,447.5 827.7,447.4 829.2,447.3 830.7,447.1 832.2,446.9 833.7,446.7 835.2,446.4 836.7,446.2 838.2,445.9 839.7,445.7 841.2,445.4 842.7,445.1 844.2,444.9 845.7,444.6 847.2,444.4 848.7,444.2 850.2,443.9 851.7,443.7 853.2,443.5 854.7,443.2 856.2,443.0 857.7,442.8 859.2,442.5 860.7,442.3 862.2,442.1 863.7,441.8 865.2,441.5 866.7,441.3 868.2,441.0 869.7,440.7 871.2,440.3 872.7,440.0 874.2,439.7 875.6,439.3 877.1,439.0 878.6,438.6 880.1,438.3 881.6,438.0 883.1,437.7 884.6,437.4 886.1,437.1 887.6,436.8 889.1,436.5 890.6,436.2 892.1,435.9 893.6,435.6 895.1,435.3 896.6,435.1 898.1,434.8 899.6,434.5 901.1,434.3 902.6,434.0 904.1,433.7 905.6,433.5 907.1,433.3 908.6,433.0 910.1,432.8 911.6,432.7 913.1,432.5 914.6,432.3 916.1,432.2 917.6,432.1 919.1,432.0 920.6,431.9 922.1,431.8 923.6,431.8 925.1,431.7 926.6,431.7 928.1,431.6 929.6,431.6 931.1,431.5 932.6,431.5 934.1,431.5 935.6,431.5 937.1,431.5 938.6,431.5 940.1,431.5 941.6,431.4 943.1,431.4 944.6,431.4 946.1,431.5 947.6,431.5 949.1,431.5 950.6,431.5 952.1,431.6 953.6,431.6 955.1,431.6 956.6,431.7 958.1,431.7 959.6,431.8 961.1,431.9 962.6,431.9 964.1,432.0 965.6,432.1 967.1,432.2 968.6,432.2 970.0,432.3 971.5,432.4 973.0,432.5 974.5,432.6 976.0,432.6 977.5,432.7 979.0,432.8 980.5,432.9 982.0,433.0 983.5,433.1 985.0,433.3 986.5,433.4 988.0,433.5 989.5,433.6 991.0,433.7 992.5,433.8 994.0,433.9 995.5,434.0 997.0,434.1 998.5,434.2 1000.0,434.3 1001.5,434.4 1003.0,434.5 1004.5,434.6 1006.0,434.8 1007.5,434.9 1009.0,435.0 1010.5,435.1 1012.0,435.2 1013.5,435.3 1015.0,435.4 1016.5,435.5" stroke="#ff00ff" stroke-width="4.5"/>
<path class="curve" d="M72.5,598.8 74.0,598.7 75.5,598.7 77.0,598.7 78.5,598.7 80.0,598.7 81.5,598.6 83.0,598.6 84.5,598.6 86.0,598.5 87.5,598.5 89.0,598.4 90.5,598.4 92.0,598.3 93.5,598.3 95.0,598.3 96.5,598.2 98.0,598.1 99.5,598.1 101.0,598.0 102.5,597.9 104.0,597.8 105.5,597.7 107.0,597.6 108.5,597.5 110.0,597.4 111.5,597.3 113.0,597.2 114.5,597.1 116.0,597.0 117.5,596.9 119.0,596.8 120.4,596.7 121.9,596.6 123.4,596.4 124.9,596.2 126.4,596.0 127.9,595.7 129.4,595.4 130.9,595.1 132.4,594.8 133.9,594.3 135.4,593.5 136.9,592.3 138.4,590.9 139.9,589.1 141.4,587.2 142.9,585.3 144.4,583.3 145.9,581.2 147.4,579.1 148.9,577.0 150.4,574.9 151.9,572.9 153.4,570.9 154.9,569.2 156.4,567.4 157.9,565.9 159.4,565.0 160.9,564.7 162.4,564.2 163.9,562.9 165.4,561.0 166.9,558.4 168.4,554.9 169.9,550.8 171.4,546.2 172.9,541.2 174.4,536.1 175.9,530.4 177.4,524.5 178.9,519.1 180.4,514.9 181.9,512.2 183.4,510.8 184.9,510.2 186.4,509.7 187.9,508.6 189.4,507.1 190.9,505.6 192.4,504.0 193.9,502.2 195.4,500.4 196.9,499.1 198.4,499.6 199.9,501.6 201.4,503.9 202.9,506.3 204.4,508.8 205.9,511.3 207.4,513.5 208.9,515.5 210.4,517.0 211.9,518.3 213.4,519.4 214.8,520.4 216.3,521.4 217.8,522.2 219.3,522.8 220.8,523.0 222.3,522.7 223.8,522.1 225.3,521.1 226.8,520.1 228.3,518.7 229.8,517.3 231.3,516.2 232.8,515.5 234.3,515.1 235.8,514.9 237.3,515.0 238.8,515.2 240.3,515.5 241.8,516.0 243.3,516.7 244.8,517.8 246.3,519.0 247.8,520.3 249.3,521.5 250.8,522.5 252.3,523.4 253.8,524.3 255.3,525.1 256.8,525.7 258.3,526.3 259.8,526.7 261.3,526.9 262.8,527.0 264.3,526.9 265.8,526.5 267.3,525.9 268.8,525.2 270.3,524.3 271.8,523.3 273.3,522.0 274.8,520.5 276.3,518.8 277.8,516.8 279.3,514.6 280.8,512.4 282.3,510.0 283.8,507.5 285.3,504.9 286.8,502.2 288.3,499.4 289.8,496.6 291.3,493.9 292.8,491.3 294.3,488.9 295.8,486.4 297.3,484.0 298.8,481.5 300.3,479.0 301.8,476.3 303.3,473.5 304.8,470.6 306.3,467.9 307.8,465.4 309.2,463.3 310.7,461.8 312.2,460.8 313.7,460.5 315.2,460.3 316.7,460.2 318.2,460.1 319.7,460.0 321.2,459.9 322.7,459.8 324.2,459.7 325.7,459.6 327.2,459.4 328.7,459.3 330.2,459.1 331.7,458.8 333.2,458.6 334.7,458.3 336.2,458.0 337.7,457.7 339.2,457.4 340.7,456.8 342.2,456.0 343.7,454.9 345.2,453.4 346.7,451.8 348.2,450.1 349.7,448.4 351.2,446.7 352.7,445.0 354.2,443.2 355.7,441.5 357.2,439.7 358.7,438.0 360.2,436.3 361.7,434.9 363.2,433.9 364.7,433.8 366.2,434.4 367.7,435.2 369.2,435.6 370.7,436.0 372.2,436.2 373.7,435.6 375.2,434.3 376.7,433.0 378.2,431.7 379.7,430.5 381.2,429.2 382.7,427.9 384.2,426.7 385.7,425.7 387.2,425.0 388.7,424.5 390.2,424.1 391.7,423.8 393.2,423.4 394.7,423.1 396.2,422.6 397.7,421.9 399.2,421.1 400.7,420.4 402.2,420.0 403.6,420.3 405.1,421.3 406.6,422.5 408.1,423.3 409.6,423.8 411.1,424.3 412.6,424.8 414.1,425.1 415.6,425.2 417.1,425.2 418.6,425.0 420.1,424.7 421.6,424.4 423.1,424.1 424.6,423.5 426.1,422.6 427.6,421.1 429.1,419.3 430.6,417.5 432.1,415.7 433.6,413.9 435.1,412.1 436.6,410.3 438.1,408.5 439.6,406.7 441.1,405.0 442.6,403.6 444.1,402.5 445.6,401.6 447.1,400.9 448.6,400.5 450.1,400.3 451.6,400.4 453.1,400.6 454.6,400.9 456.1,401.3 457.6,401.7 459.1,402.2 460.6,402.7 462.1,403.3 463.6,404.0 465.1,404.7 466.6,405.4 468.1,406.0 469.6,406.5 471.1,407.0 472.6,407.4 474.1,407.7 475.6,407.9 477.1,408.0 478.6,408.0 480.1,407.8 481.6,407.6 483.1,407.3 484.6,406.8 486.1,406.3 487.6,405.7 489.1,405.1 490.6,404.4 492.1,403.8 493.6,403.1 495.1,402.5 496.6,401.9 498.0,401.4 499.5,400.9 501.0,400.5 502.5,400.0 504.0,399.6 505.5,399.0 507.0,398.4 508.5,397.4 510.0,396.2 511.5,395.1 513.0,394.2 514.5,393.5 516.0,393.0 517.5,393.1 519.0,393.4 520.5,393.8 522.0,394.3 523.5,394.7 525.0,395.0 526.5,395.2 528.0,395.4 529.5,395.6 531.0,395.8 532.5,395.9 534.0,396.1 535.5,396.3 537.0,396.5 538.5,396.7 540.0,396.9 541.5,397.1 543.0,397.3 544.5,397.4 546.0,397.6 547.5,397.7 549.0,397.7 550.5,397.7 552.0,397.6 553.5,397.5 555.0,397.3 556.5,397.0 558.0,396.6 559.5,396.1 561.0,395.8 562.5,395.5 564.0,395.4 565.5,395.3 567.0,395.2 568.5,395.3 570.0,395.5 571.5,395.7 573.0,396.0 574.5,396.3 576.0,396.6 577.5,396.9 579.0,397.3 580.5,397.6 582.0,398.0 583.5,398.4 585.0,398.8 586.5,399.1 588.0,399.5 589.5,399.9 591.0,400.2 592.4,400.5 593.9,400.8 595.4,401.0 596.9,401.3 598.4,401.5 599.9,401.7 601.4,401.9 602.9,402.1 604.4,402.2 605.9,402.3 607.4,402.4 608.9,402.5 610.4,402.5 611.9,402.5 613.4,402.5 614.9,402.4 616.4,402.3 617.9,402.1 619.4,401.9 620.9,401.6 622.4,401.3 623.9,400.9 625.4,400.5 626.9,400.1 628.4,399.6 629.9,399.1 631.4,398.5 632.9,397.9 634.4,397.3 635.9,396.6 637.4,395.8 638.9,395.0 640.4,394.2 641.9,393.4 643.4,392.6 644.9,391.8 646.4,391.0 647.9,390.3 649.4,389.6 650.9,388.9 652.4,388.2 653.9,387.6 655.4,387.0 656.9,386.4 658.4,386.0 659.9,385.6 661.4,385.4 662.9,385.2 664.4,385.1 665.9,385.0 667.4,385.0 668.9,384.9 670.4,384.9 671.9,384.8 673.4,384.8 674.9,384.8 676.4,384.9 677.9,385.0 679.4,385.2 680.9,385.3 682.4,385.5 683.9,385.6 685.4,385.8 686.8,385.9 688.3,386.1 689.8,386.2 691.3,386.4 692.8,386.5 694.3,386.6 695.8,386.7 697.3,386.8 698.8,387.0 700.3,387.1 701.8,387.2 703.3,387.3 704.8,387.5 706.3,387.6 707.8,387.8 709.3,388.0 710.8,388.2 712.3,388.4 713.8,388.7 715.3,388.9 716.8,389.1 718.3,389.3 719.8,389.5 721.3,389.6 722.8,389.8 724.3,389.9 725.8,390.0 727.3,390.2 728.8,390.3 730.3,390.5 731.8,390.8 733.3,391.0 734.8,391.3 736.3,391.5 737.8,391.7 739.3,392.0 740.8,392.2 742.3,392.5 743.8,392.7 745.3,392.9 746.8,393.2 748.3,393.4 749.8,393.7 751.3,393.9 752.8,394.1 754.3,394.4 755.8,394.6 757.3,394.9 758.8,395.1 760.3,395.3 761.8,395.5 763.3,395.7 764.8,395.9 766.3,396.1 767.8,396.3 769.3,396.5 770.8,396.6 772.3,396.8 773.8,396.9 775.3,397.0 776.8,397.1 778.3,397.2 779.8,397.3 781.2,397.3 782.7,397.4 784.2,397.4 785.7,397.4 787.2,397.4 788.7,397.4 790.2,397.4 791.7,397.5 793.2,397.5 794.7,397.6 796.2,397.6 797.7,397.7 799.2,397.8 800.7,397.8 802.2,397.9 803.7,398.0 805.2,398.0 806.7,398.1 808.2,398.1 809.7,398.1 811.2,398.2 812.7,398.2 814.2,398.2 815.7,398.2 817.2,398.2 818.7,398.2 820.2,398.3 821.7,398.2 823.2,398.2 824.7,398.2 826.2,398.1 827.7,398.0 829.2,397.8 830.7,397.6 832.2,397.4 833.7,397.1 835.2,396.9 836.7,396.7 838.2,396.4 839.7,396.2 841.2,395.9 842.7,395.6 844.2,395.4 845.7,395.1 847.2,394.9 848.7,394.6 850.2,394.4 851.7,394.1 853.2,393.9 854.7,393.6 856.2,393.4 857.7,393.1 859.2,392.9 860.7,392.6 862.2,392.3 863.7,392.1 865.2,391.8 866.7,391.5 868.2,391.2 869.7,390.8 871.2,390.5 872.7,390.1 874.2,389.8 875.6,389.4 877.1,389.1 878.6,388.7 880.1,388.4 881.6,388.0 883.1,387.7 884.6,387.4 886.1,387.0 887.6,386.7 889.1,386.4 890.6,386.1 892.1,385.7 893.6,385.4 895.1,385.1 896.6,384.8 898.1,384.5 899.6,384.2 901.1,383.9 902.6,383.5 904.1,383.2 905.6,382.9 907.1,382.6 908.6,382.3 910.1,382.0 911.6,381.7 913.1,381.5 914.6,381.3 916.1,381.1 917.6,380.9 919.1,380.7 920.6,380.6 922.1,380.5 923.6,380.4 925.1,380.4 926.6,380.3 928.1,380.2 929.6,380.2 931.1,380.1 932.6,380.1 934.1,380.0 935.6,379.9 937.1,379.9 938.6,379.8 940.1,379.8 941.6,379.7 943.1,379.6 944.6,379.6 946.1,379.6 947.6,379.5 949.1,379.5 950.6,379.5 952.1,379.5 953.6,379.5 955.1,379.5 956.6,379.6 958.1,379.7 959.6,379.7 961.1,379.8 962.6,379.9 964.1,380.0 965.6,380.1 967.1,380.2 968.6,380.3 970.0,380.4 971.5,380.5 973.0,380.6 974.5,380.8 976.0,380.9 977.5,381.0 979.0,381.1 980.5,381.2 982.0,381.3 983.5,381.4 985.0,381.5 986.5,381.6 988.0,381.7 989.5,381.8 991.0,381.9 992.5,382.0 994.0,382.1 995.5,382.3 997.0,382.4 998.5,382.5 1000.0,382.6 1001.5,382.7 1003.0,382.7 1004.5,382.8 1006.0,382.8 1007.5,382.9 1009.0,382.9 1010.5,382.9 1012.0,383.0 1013.5,383.0 1015.0,383.0 1016.5,383.0" stroke="#008000" stroke-width="4.5"/>
<path class="curve" d="M72.5,560.0 74.0,560.0 75.5,560.0 77.0,560.0 78.5,560.0 80.0,560.0 81.5,560.0 83.0,560.0 84.5,560.0 86.0,560.0 87.5,560.0 89.0,560.0 90.5,560.0 92.0,560.0 93.5,560.0 95.0,560.0 96.5,560.0 98.0,560.0 99.5,560.0 101.0,559.9 102.5,559.9 104.0,559.9 105.5,559.9 107.0,559.8 108.5,559.8 110.0,559.8 111.5,559.7 113.0,559.7 114.5,559.6 116.0,559.6 117.5,559.6 119.0,559.5 120.4,559.5 121.9,559.4 123.4,559.3 124.9,559.1 126.4,559.0 127.9,558.8 129.4,558.5 130.9,558.3 132.4,558.0 133.9,557.6 135.4,557.0 136.9,556.0 138.4,554.8 139.9,553.2 141.4,551.3 142.9,549.4 144.4,547.6 145.9,546.1 147.4,544.7 148.9,543.3 150.4,541.9 151.9,540.5 153.4,539.2 154.9,537.9 156.4,536.7 157.9,535.5 159.4,534.3 160.9,532.9 162.4,531.2 163.9,529.2 165.4,527.1 166.9,524.9 168.4,522.2 169.9,518.9 171.4,515.0 172.9,510.5 174.4,504.9 175.9,497.8 177.4,490.9 178.9,485.3 180.4,480.8 181.9,477.7 183.4,475.9 184.9,474.8 186.4,474.4 187.9,474.7 189.4,475.0 190.9,474.4 192.4,473.0 193.9,471.4 195.4,469.9 196.9,468.4 198.4,466.9 199.9,465.8 201.4,465.6 202.9,467.3 204.4,469.8 205.9,472.2 207.4,474.7 208.9,477.2 210.4,479.5 211.9,481.4 213.4,483.1 214.8,484.5 216.3,485.9 217.8,487.2 219.3,488.4 220.8,489.6 222.3,490.5 223.8,490.8 225.3,490.5 226.8,489.6 228.3,488.4 229.8,487.2 231.3,485.8 232.8,484.4 234.3,483.1 235.8,482.3 237.3,481.9 238.8,481.9 240.3,482.2 241.8,482.6 243.3,483.4 244.8,484.5 246.3,485.9 247.8,487.6 249.3,489.3 250.8,491.0 252.3,492.5 253.8,493.9 255.3,495.3 256.8,496.6 258.3,497.8 259.8,498.7 261.3,499.2 262.8,499.4 264.3,499.5 265.8,499.4 267.3,499.0 268.8,498.3 270.3,497.2 271.8,495.9 273.3,494.4 274.8,492.6 276.3,490.3 277.8,487.4 279.3,484.1 280.8,480.9 282.3,477.6 283.8,474.3 285.3,471.1 286.8,467.9 288.3,464.6 289.8,461.4 291.3,458.2 292.8,455.0 294.3,452.0 295.8,449.5 297.3,447.5 298.8,445.6 300.3,443.5 301.8,441.1 303.3,438.4 304.8,435.6 306.3,432.9 307.8,430.4 309.2,428.1 310.7,426.1 312.2,424.9 313.7,424.5 315.2,424.8 316.7,425.4 318.2,426.0 319.7,426.3 321.2,426.5 322.7,426.7 324.2,426.8 325.7,427.0 327.2,427.0 328.7,427.1 330.2,427.1 331.7,427.2 333.2,427.2 334.7,427.2 336.2,427.2 337.7,427.2 339.2,427.1 340.7,426.9 342.2,426.7 343.7,426.2 345.2,425.3 346.7,424.0 348.2,422.4 349.7,420.7 351.2,419.0 352.7,417.2 354.2,415.2 355.7,413.2 357.2,411.1 358.7,409.2 360.2,407.5 361.7,406.0 363.2,405.1 364.7,405.0 366.2,405.5 367.7,406.0 369.2,406.3 370.7,406.6 372.2,406.7 373.7,406.3 375.2,405.3 376.7,404.0 378.2,402.5 379.7,401.1 381.2,399.6 382.7,398.0 384.2,396.6 385.7,395.6 387.2,394.9 388.7,394.5 390.2,394.5 391.7,394.8 393.2,395.1 394.7,395.1 396.2,394.6 397.7,394.0 399.2,393.3 400.7,392.8 402.2,392.2 403.6,391.9 405.1,392.2 406.6,392.8 408.1,393.5 409.6,394.1 411.1,394.6 412.6,395.2 414.1,395.6 415.6,395.7 417.1,395.4 418.6,395.0 420.1,394.5 421.6,393.9 423.1,393.3 424.6,392.5 426.1,391.4 427.6,390.0 429.1,388.5 430.6,386.8 432.1,385.0 433.6,383.0 435.1,381.0 436.6,379.1 438.1,377.1 439.6,375.1 441.1,373.1 442.6,371.2 444.1,369.2 445.6,367.3 447.1,366.0 448.6,365.3 450.1,365.0 451.6,364.8 453.1,364.8 454.6,365.3 456.1,366.1 457.6,367.0 459.1,368.0 460.6,368.9 462.1,369.8 463.6,370.6 465.1,371.5 466.6,372.4 468.1,373.2 469.6,374.1 471.1,374.9 472.6,375.6 474.1,376.1 475.6,376.3 477.1,376.3 478.6,376.3 480.1,376.1 481.6,375.9 483.1,375.5 484.6,375.1 486.1,374.6 487.6,373.9 489.1,373.3 490.6,372.6 492.1,371.9 493.6,371.2 495.1,370.5 496.6,369.9 498.0,369.3 499.5,368.8 501.0,368.3 502.5,367.8 504.0,367.2 505.5,366.6 507.0,365.9 508.5,365.1 510.0,364.3 511.5,363.5 513.0,362.7 514.5,361.7 516.0,360.9 517.5,360.4 519.0,360.5 520.5,361.0 522.0,361.8 523.5,362.5 525.0,363.0 526.5,363.4 528.0,363.8 529.5,364.1 531.0,364.5 532.5,364.9 534.0,365.2 535.5,365.6 537.0,366.1 538.5,366.6 540.0,367.1 541.5,367.6 543.0,368.1 544.5,368.6 546.0,369.0 547.5,369.4 549.0,369.6 550.5,369.7 552.0,369.7 553.5,369.5 555.0,369.2 556.5,368.8 558.0,368.4 559.5,367.9 561.0,367.4 562.5,367.0 564.0,366.7 565.5,366.3 567.0,366.0 568.5,365.7 570.0,365.5 571.5,365.4 573.0,365.3 574.5,365.4 576.0,365.5 577.5,365.8 579.0,366.2 580.5,366.7 582.0,367.2 583.5,367.8 585.0,368.5 586.5,369.1 588.0,369.7 589.5,370.3 591.0,370.8 592.4,371.3 593.9,371.8 595.4,372.3 596.9,372.7 598.4,373.2 599.9,373.6 601.4,374.0 602.9,374.4 604.4,374.7 605.9,374.9 607.4,375.0 608.9,375.1 610.4,375.1 611.9,375.0 613.4,374.9 614.9,374.7 616.4,374.4 617.9,374.1 619.4,373.6 620.9,373.1 622.4,372.5 623.9,371.9 625.4,371.2 626.9,370.5 628.4,369.8 629.9,369.1 631.4,368.3 632.9,367.5 634.4,366.6 635.9,365.7 637.4,364.7 638.9,363.7 640.4,362.7 641.9,361.7 643.4,360.7 644.9,359.7 646.4,358.7 647.9,357.8 649.4,356.9 650.9,356.0 652.4,355.2 653.9,354.5 655.4,353.8 656.9,353.2 658.4,352.7 659.9,352.3 661.4,352.0 662.9,351.7 664.4,351.6 665.9,351.5 667.4,351.5 668.9,351.5 670.4,351.4 671.9,351.5 673.4,351.5 674.9,351.7 676.4,351.8 677.9,352.1 679.4,352.3 680.9,352.6 682.4,353.0 683.9,353.3 685.4,353.6 686.8,353.9 688.3,354.2 689.8,354.5 691.3,354.7 692.8,354.9 694.3,355.1 695.8,355.4 697.3,355.6 698.8,355.8 700.3,356.0 701.8,356.2 703.3,356.5 704.8,356.7 706.3,357.0 707.8,357.3 709.3,357.5 710.8,357.8 712.3,358.1 713.8,358.4 715.3,358.6 716.8,358.9 718.3,359.2 719.8,359.5 721.3,359.7 722.8,360.0 724.3,360.3 725.8,360.5 727.3,360.8 728.8,361.0 730.3,361.3 731.8,361.6 733.3,361.9 734.8,362.2 736.3,362.5 737.8,362.8 739.3,363.1 740.8,363.4 742.3,363.7 743.8,364.0 745.3,364.4 746.8,364.8 748.3,365.2 749.8,365.6 751.3,366.0 752.8,366.3 754.3,366.6 755.8,366.9 757.3,367.1 758.8,367.3 760.3,367.5 761.8,367.7 763.3,367.9 764.8,368.0 766.3,368.2 767.8,368.3 769.3,368.5 770.8,368.7 772.3,368.8 773.8,369.0 775.3,369.1 776.8,369.3 778.3,369.4 779.8,369.5 781.2,369.6 782.7,369.6 784.2,369.7 785.7,369.7 787.2,369.8 788.7,369.8 790.2,369.9 791.7,370.0 793.2,370.0 794.7,370.1 796.2,370.2 797.7,370.2 799.2,370.3 800.7,370.4 802.2,370.5 803.7,370.5 805.2,370.6 806.7,370.7 808.2,370.8 809.7,370.9 811.2,371.0 812.7,371.1 814.2,371.2 815.7,371.3 817.2,371.4 818.7,371.5 820.2,371.5 821.7,371.6 823.2,371.5 824.7,371.5 826.2,371.4 827.7,371.3 829.2,371.2 830.7,371.1 832.2,370.9 833.7,370.8 835.2,370.6 836.7,370.5 838.2,370.3 839.7,370.1 841.2,370.0 842.7,369.8 844.2,369.6 845.7,369.3 847.2,369.1 848.7,368.8 850.2,368.5 851.7,368.2 853.2,367.9 854.7,367.6 856.2,367.3 857.7,367.0 859.2,366.6 860.7,366.3 862.2,365.9 863.7,365.6 865.2,365.2 866.7,364.8 868.2,364.5 869.7,364.1 871.2,363.7 872.7,363.3 874.2,363.0 875.6,362.6 877.1,362.2 878.6,361.8 880.1,361.5 881.6,361.1 883.1,360.7 884.6,360.3 886.1,360.0 887.6,359.6 889.1,359.2 890.6,358.8 892.1,358.5 893.6,358.1 895.1,357.7 896.6,357.3 898.1,357.0 899.6,356.6 901.1,356.2 902.6,355.8 904.1,355.5 905.6,355.1 907.1,354.8 908.6,354.5 910.1,354.2 911.6,354.0 913.1,353.8 914.6,353.5 916.1,353.3 917.6,353.2 919.1,353.0 920.6,352.8 922.1,352.7 923.6,352.5 925.1,352.4 926.6,352.3 928.1,352.1 929.6,352.0 931.1,351.9 932.6,351.8 934.1,351.7 935.6,351.7 937.1,351.6 938.6,351.5 940.1,351.4 941.6,351.3 943.1,351.3 944.6,351.2 946.1,351.2 947.6,351.2 949.1,351.3 950.6,351.3 952.1,351.3 953.6,351.4 955.1,351.5 956.6,351.6 958.1,351.6 959.6,351.7 961.1,351.8 962.6,351.9 964.1,352.0 965.6,352.1 967.1,352.2 968.6,352.3 970.0,352.4 971.5,352.5 973.0,352.6 974.5,352.7 976.0,352.8 977.5,352.9 979.0,353.1 980.5,353.2 982.0,353.3 983.5,353.4 985.0,353.6 986.5,353.7 988.0,353.9 989.5,354.0 991.0,354.2 992.5,354.4 994.0,354.5 995.5,354.7 997.0,354.8 998.5,355.0 1000.0,355.1 1001.5,355.2 1003.0,355.3 1004.5,355.4 1006.0,355.5 1007.5,355.6 1009.0,355.7 1010.5,355.7 1012.0,355.8 1013.5,355.9 1015.0,355.9 1016.5,356.0" stroke="#000080" stroke-width="4.5"/>
<path class="curve" d="M72.5,525.0 74.0,525.1 75.5,525.1 77.0,525.2 78.5,525.3 80.0,525.3 81.5,525.3 83.0,525.4 84.5,525.4 86.0,525.4 87.5,525.5 89.0,525.5 90.5,525.5 92.0,525.5 93.5,525.5 95.0,525.5 96.5,525.5 98.0,525.5 99.5,525.5 101.0,525.4 102.5,525.4 104.0,525.3 105.5,525.3 107.0,525.2 108.5,525.1 110.0,525.1 111.5,525.0 113.0,524.9 114.5,524.8 116.0,524.7 117.5,524.6 119.0,524.6 120.4,524.5 121.9,524.3 123.4,524.2 124.9,524.0 126.4,523.7 127.9,523.4 129.4,523.1 130.9,522.8 132.4,522.5 133.9,522.1 135.4,521.4 136.9,520.5 138.4,519.1 139.9,517.3 141.4,515.1 142.9,512.9 144.4,510.7 145.9,508.9 147.4,507.1 148.9,505.3 150.4,503.6 151.9,501.9 153.4,500.3 154.9,498.7 156.4,497.3 157.9,495.8 159.4,494.4 160.9,492.8 162.4,491.1 163.9,489.1 165.4,487.1 166.9,484.8 168.4,482.1 169.9,478.1 171.4,473.3 172.9,468.1 174.4,462.1 175.9,455.3 177.4,448.8 178.9,443.4 180.4,439.2 181.9,436.9 183.4,436.2 184.9,435.8 186.4,435.3 187.9,434.3 189.4,433.2 190.9,432.0 192.4,430.7 193.9,428.8 195.4,426.7 196.9,424.9 198.4,423.8 199.9,423.8 201.4,425.1 202.9,427.2 204.4,429.8 205.9,432.6 207.4,435.5 208.9,438.1 210.4,440.2 211.9,442.2 213.4,443.9 214.8,445.5 216.3,447.1 217.8,448.5 219.3,449.9 220.8,451.0 222.3,451.8 223.8,452.0 225.3,451.7 226.8,450.8 228.3,449.6 229.8,448.3 231.3,446.7 232.8,445.1 234.3,443.7 235.8,442.7 237.3,442.2 238.8,442.0 240.3,442.1 241.8,442.6 243.3,443.4 244.8,444.6 246.3,446.2 247.8,448.1 249.3,450.0 250.8,451.8 252.3,453.3 253.8,454.8 255.3,456.1 256.8,457.2 258.3,458.3 259.8,459.0 261.3,459.4 262.8,459.5 264.3,459.4 265.8,459.1 267.3,458.5 268.8,457.7 270.3,456.5 271.8,455.1 273.3,453.5 274.8,451.7 276.3,449.5 277.8,446.9 279.3,444.0 280.8,441.1 282.3,438.1 283.8,435.2 285.3,432.3 286.8,429.3 288.3,426.3 289.8,423.3 291.3,420.3 292.8,417.4 294.3,414.6 295.8,412.2 297.3,410.2 298.8,408.2 300.3,406.0 301.8,403.6 303.3,400.9 304.8,398.2 306.3,395.4 307.8,392.8 309.2,390.4 310.7,388.3 312.2,387.0 313.7,386.4 315.2,386.2 316.7,386.2 318.2,386.2 319.7,386.4 321.2,386.6 322.7,386.8 324.2,387.0 325.7,387.0 327.2,386.1 328.7,385.0 330.2,384.5 331.7,384.9 333.2,385.7 334.7,386.2 336.2,386.1 337.7,385.6 339.2,385.2 340.7,385.0 342.2,385.3 343.7,385.7 345.2,385.6 346.7,384.7 348.2,383.4 349.7,381.8 351.2,380.0 352.7,378.1 354.2,376.2 355.7,374.3 357.2,372.4 358.7,370.5 360.2,368.6 361.7,366.8 363.2,365.1 364.7,364.4 366.2,364.5 367.7,365.1 369.2,366.1 370.7,366.9 372.2,367.0 373.7,366.8 375.2,366.2 376.7,365.2 378.2,363.9 379.7,362.6 381.2,361.3 382.7,360.1 384.2,358.9 385.7,357.9 387.2,357.1 388.7,357.0 390.2,357.2 391.7,357.2 393.2,356.8 394.7,356.2 396.2,355.5 397.7,354.9 399.2,354.3 400.7,353.6 402.2,352.9 403.6,353.0 405.1,353.6 406.6,354.2 408.1,354.8 409.6,355.4 411.1,356.0 412.6,356.6 414.1,357.1 415.6,357.3 417.1,357.1 418.6,356.7 420.1,356.2 421.6,355.7 423.1,355.0 424.6,354.2 426.1,353.1 427.6,351.8 429.1,350.3 430.6,348.6 432.1,346.7 433.6,344.7 435.1,342.6 436.6,340.5 438.1,338.4 439.6,336.4 441.1,334.4 442.6,332.6 444.1,330.9 445.6,329.4 447.1,328.5 448.6,328.1 450.1,328.0 451.6,328.1 453.1,328.4 454.6,328.8 456.1,329.4 457.6,330.2 459.1,331.1 460.6,332.0 462.1,332.8 463.6,333.7 465.1,334.4 466.6,335.2 468.1,335.9 469.6,336.7 471.1,337.4 472.6,338.0 474.1,338.6 475.6,339.0 477.1,339.3 478.6,339.4 480.1,339.2 481.6,339.0 483.1,338.6 484.6,338.1 486.1,337.6 487.6,337.0 489.1,336.3 490.6,335.6 492.1,334.9 493.6,334.2 495.1,333.5 496.6,332.9 498.0,332.3 499.5,331.8 501.0,331.3 502.5,330.9 504.0,330.4 505.5,329.8 507.0,329.1 508.5,328.4 510.0,327.6 511.5,326.8 513.0,325.9 514.5,325.0 516.0,324.1 517.5,323.7 519.0,323.8 520.5,324.3 522.0,325.0 523.5,325.7 525.0,326.3 526.5,326.6 528.0,327.0 529.5,327.4 531.0,327.8 532.5,328.1 534.0,328.5 535.5,328.9 537.0,329.3 538.5,329.6 540.0,330.0 541.5,330.4 543.0,330.8 544.5,331.1 546.0,331.5 547.5,331.8 549.0,331.9 550.5,332.0 552.0,332.1 553.5,332.0 555.0,331.8 556.5,331.5 558.0,331.1 559.5,330.7 561.0,330.3 562.5,330.0 564.0,329.8 565.5,329.7 567.0,329.6 568.5,329.5 570.0,329.5 571.5,329.5 573.0,329.6 574.5,329.7 576.0,329.8 577.5,330.1 579.0,330.3 580.5,330.7 582.0,331.2 583.5,331.6 585.0,332.1 586.5,332.6 588.0,333.1 589.5,333.6 591.0,334.0 592.4,334.4 593.9,334.8 595.4,335.2 596.9,335.6 598.4,336.0 599.9,336.4 601.4,336.7 602.9,337.1 604.4,337.4 605.9,337.6 607.4,337.8 608.9,337.9 610.4,338.0 611.9,338.0 613.4,338.0 614.9,337.9 616.4,337.7 617.9,337.5 619.4,337.2 620.9,336.8 622.4,336.3 623.9,335.7 625.4,335.1 626.9,334.5 628.4,333.8 629.9,333.1 631.4,332.4 632.9,331.6 634.4,330.8 635.9,330.0 637.4,329.1 638.9,328.2 640.4,327.3 641.9,326.4 643.4,325.4 644.9,324.5 646.4,323.6 647.9,322.8 649.4,321.9 650.9,321.1 652.4,320.4 653.9,319.6 655.4,318.9 656.9,318.3 658.4,317.7 659.9,317.2 661.4,316.8 662.9,316.6 664.4,316.4 665.9,316.3 667.4,316.2 668.9,316.2 670.4,316.1 671.9,316.1 673.4,316.2 674.9,316.2 676.4,316.4 677.9,316.5 679.4,316.8 680.9,317.0 682.4,317.2 683.9,317.4 685.4,317.6 686.8,317.8 688.3,318.0 689.8,318.2 691.3,318.5 692.8,318.7 694.3,318.9 695.8,319.1 697.3,319.4 698.8,319.6 700.3,319.8 701.8,320.0 703.3,320.3 704.8,320.5 706.3,320.7 707.8,320.9 709.3,321.0 710.8,321.2 712.3,321.4 713.8,321.6 715.3,321.7 716.8,322.0 718.3,322.2 719.8,322.5 721.3,322.8 722.8,323.1 724.3,323.4 725.8,323.7 727.3,324.0 728.8,324.3 730.3,324.6 731.8,324.9 733.3,325.2 734.8,325.5 736.3,325.8 737.8,326.1 739.3,326.4 740.8,326.7 742.3,327.0 743.8,327.3 745.3,327.6 746.8,328.0 748.3,328.4 749.8,328.7 751.3,329.1 752.8,329.5 754.3,329.8 755.8,330.2 757.3,330.5 758.8,330.8 760.3,331.0 761.8,331.3 763.3,331.6 764.8,331.8 766.3,332.1 767.8,332.3 769.3,332.6 770.8,332.8 772.3,333.1 773.8,333.3 775.3,333.5 776.8,333.7 778.3,333.9 779.8,334.0 781.2,334.1 782.7,334.1 784.2,334.2 785.7,334.3 787.2,334.4 788.7,334.4 790.2,334.5 791.7,334.6 793.2,334.6 794.7,334.7 796.2,334.8 797.7,334.8 799.2,334.9 800.7,335.0 802.2,335.0 803.7,334.8 805.2,334.4 806.7,334.1 808.2,333.8 809.7,333.8 811.2,334.1 812.7,334.6 814.2,335.2 815.7,335.7 817.2,336.1 818.7,336.3 820.2,336.2 821.7,336.0 823.2,335.9 824.7,335.8 826.2,335.6 827.7,335.5 829.2,335.3 830.7,335.1 832.2,334.9 833.7,334.7 835.2,334.5 836.7,334.3 838.2,334.1 839.7,333.9 841.2,333.7 842.7,333.5 844.2,333.3 845.7,333.1 847.2,332.9 848.7,332.7 850.2,332.5 851.7,332.4 853.2,332.2 854.7,332.0 856.2,331.8 857.7,331.6 859.2,331.4 860.7,331.1 862.2,330.9 863.7,330.6 865.2,330.3 866.7,329.9 868.2,329.6 869.7,329.3 871.2,329.0 872.7,328.7 874.2,328.3 875.6,328.0 877.1,327.7 878.6,327.4 880.1,327.1 881.6,326.8 883.1,326.4 884.6,326.1 886.1,325.8 887.6,325.5 889.1,325.2 890.6,324.8 892.1,324.5 893.6,324.2 895.1,323.9 896.6,323.6 898.1,323.2 899.6,322.9 901.1,322.6 902.6,322.3 904.1,322.0 905.6,321.6 907.1,321.3 908.6,321.0 910.1,320.6 911.6,320.3 913.1,319.9 914.6,319.6 916.1,319.3 917.6,319.0 919.1,318.7 920.6,318.5 922.1,318.3 923.6,318.2 925.1,318.0 926.6,317.9 928.1,317.9 929.6,317.8 931.1,317.7 932.6,317.6 934.1,317.5 935.6,317.4 937.1,317.2 938.6,317.1 940.1,317.0 941.6,316.9 943.1,316.8 944.6,316.7 946.1,316.7 947.6,316.7 949.1,316.8 950.6,316.9 952.1,317.0 953.6,317.1 955.1,317.2 956.6,317.3 958.1,317.4 959.6,317.5 961.1,317.6 962.6,317.8 964.1,317.9 965.6,318.0 967.1,318.1 968.6,318.2 970.0,318.3 971.5,318.4 973.0,318.5 974.5,318.6 976.0,318.7 977.5,318.8 979.0,318.9 980.5,319.0 982.0,319.1 983.5,319.3 985.0,319.4 986.5,319.5 988.0,319.6 989.5,319.7 991.0,319.8 992.5,319.9 994.0,320.0 995.5,320.1 997.0,320.2 998.5,320.3 1000.0,320.4 1001.5,320.6 1003.0,320.7 1004.5,320.8 1006.0,320.9 1007.5,321.0 1009.0,321.1 1010.5,321.3 1012.0,321.4 1013.5,321.5 1015.0,321.6 1016.5,321.8" stroke="#8000ff" stroke-width="4.5"/>
<path class="curve" d="M72.5,486.2 74.0,486.1 75.5,486.0 77.0,485.8 78.5,485.7 80.0,485.5 81.5,485.4 83.0,485.2 84.5,485.0 86.0,484.8 87.5,484.7 89.0,484.5 90.5,484.3 92.0,484.1 93.5,483.9 95.0,483.8 96.5,483.6 98.0,483.4 99.5,483.1 101.0,482.9 102.5,482.7 104.0,482.5 105.5,482.3 107.0,482.0 108.5,481.8 110.0,481.6 111.5,481.3 113.0,481.1 114.5,480.9 116.0,480.6 117.5,480.4 119.0,480.2 120.4,479.9 121.9,479.7 123.4,479.4 124.9,479.1 126.4,478.8 127.9,478.5 129.4,478.2 130.9,477.8 132.4,477.5 133.9,477.2 135.4,476.8 136.9,476.1 138.4,474.8 139.9,473.1 141.4,471.2 142.9,469.1 144.4,467.1 145.9,465.0 147.4,462.9 148.9,460.8 150.4,458.7 151.9,456.5 153.4,454.3 154.9,452.0 156.4,450.0 157.9,448.4 159.4,447.3 160.9,446.5 162.4,445.5 163.9,444.5 165.4,443.5 166.9,441.8 168.4,439.3 169.9,435.6 171.4,431.2 172.9,426.5 174.4,421.7 175.9,417.1 177.4,412.6 178.9,408.3 180.4,404.5 181.9,401.8 183.4,400.2 184.9,399.3 186.4,398.4 187.9,397.7 189.4,397.1 190.9,396.2 192.4,394.8 193.9,393.3 195.4,391.8 196.9,390.6 198.4,389.7 199.9,389.9 201.4,391.0 202.9,392.5 204.4,394.2 205.9,396.0 207.4,397.7 208.9,399.4 210.4,400.7 211.9,401.9 213.4,402.9 214.8,403.9 216.3,405.0 217.8,406.0 219.3,406.9 220.8,407.2 222.3,406.7 223.8,405.2 225.3,403.5 226.8,401.7 228.3,399.9 229.8,397.9 231.3,396.2 232.8,394.8 234.3,394.1 235.8,393.9 237.3,394.1 238.8,394.4 240.3,394.9 241.8,395.8 243.3,397.2 244.8,398.9 246.3,400.7 247.8,402.5 249.3,404.3 250.8,405.9 252.3,407.5 253.8,408.9 255.3,410.3 256.8,411.6 258.3,412.6 259.8,413.3 261.3,413.6 262.8,413.8 264.3,413.7 265.8,413.5 267.3,413.0 268.8,412.4 270.3,411.5 271.8,410.3 273.3,409.1 274.8,407.7 276.3,406.3 277.8,404.6 279.3,402.8 280.8,400.9 282.3,399.0 283.8,397.0 285.3,394.8 286.8,392.4 288.3,390.0 289.8,387.5 291.3,384.9 292.8,382.3 294.3,379.6 295.8,376.9 297.3,374.1 298.8,371.3 300.3,368.5 301.8,365.8 303.3,363.0 304.8,360.3 306.3,357.6 307.8,355.0 309.2,352.5 310.7,350.8 312.2,349.8 313.7,349.5 315.2,349.5 316.7,349.5 318.2,349.6 319.7,349.5 321.2,349.3 322.7,349.2 324.2,349.0 325.7,348.9 327.2,348.7 328.7,348.4 330.2,348.2 331.7,347.9 333.2,347.6 334.7,347.3 336.2,347.0 337.7,346.7 339.2,346.3 340.7,345.7 342.2,344.9 343.7,344.0 345.2,342.9 346.7,341.5 348.2,340.0 349.7,338.4 351.2,336.7 352.7,335.0 354.2,333.1 355.7,331.2 357.2,329.3 358.7,327.5 360.2,325.7 361.7,324.2 363.2,323.7 364.7,324.0 366.2,324.6 367.7,325.0 369.2,325.4 370.7,325.8 372.2,325.9 373.7,325.5 375.2,324.7 376.7,323.8 378.2,322.9 379.7,322.0 381.2,321.0 382.7,320.0 384.2,319.0 385.7,318.0 387.2,317.2 388.7,316.6 390.2,316.4 391.7,316.4 393.2,316.3 394.7,316.0 396.2,315.6 397.7,315.0 399.2,314.6 400.7,314.5 402.2,314.7 403.6,315.2 405.1,315.9 406.6,316.6 408.1,317.3 409.6,318.0 411.1,318.8 412.6,319.5 414.1,320.2 415.6,320.5 417.1,320.7 418.6,320.6 420.1,320.5 421.6,320.3 423.1,319.9 424.6,319.3 426.1,318.1 427.6,316.6 429.1,314.9 430.6,313.3 432.1,311.6 433.6,310.1 435.1,308.6 436.6,307.0 438.1,305.6 439.6,304.3 441.1,303.2 442.6,302.4 444.1,301.6 445.6,301.0 447.1,300.4 448.6,299.9 450.1,299.6 451.6,299.5 453.1,299.5 454.6,299.6 456.1,299.9 457.6,300.2 459.1,300.6 460.6,301.1 462.1,301.7 463.6,302.3 465.1,302.9 466.6,303.5 468.1,303.9 469.6,304.3 471.1,304.6 472.6,304.8 474.1,305.0 475.6,305.0 477.1,305.0 478.6,304.8 480.1,304.6 481.6,304.2 483.1,303.8 484.6,303.2 486.1,302.5 487.6,301.8 489.1,301.0 490.6,300.2 492.1,299.4 493.6,298.7 495.1,298.0 496.6,297.3 498.0,296.7 499.5,296.1 501.0,295.5 502.5,294.8 504.0,294.2 505.5,293.5 507.0,292.8 508.5,292.0 510.0,291.2 511.5,290.5 513.0,289.7 514.5,289.0 516.0,288.3 517.5,288.0 519.0,288.0 520.5,288.1 522.0,288.4 523.5,288.7 525.0,288.9 526.5,289.1 528.0,289.3 529.5,289.4 531.0,289.5 532.5,289.6 534.0,289.7 535.5,289.8 537.0,290.0 538.5,290.1 540.0,290.3 541.5,290.5 543.0,290.7 544.5,290.9 546.0,291.1 547.5,291.2 549.0,291.4 550.5,291.5 552.0,291.6 553.5,291.7 555.0,291.7 556.5,291.7 558.0,291.4 559.5,291.1 561.0,290.7 562.5,290.4 564.0,290.1 565.5,290.0 567.0,289.8 568.5,289.7 570.0,289.7 571.5,289.8 573.0,290.1 574.5,290.4 576.0,290.8 577.5,291.1 579.0,291.5 580.5,291.8 582.0,292.1 583.5,292.5 585.0,292.8 586.5,293.1 588.0,293.5 589.5,293.8 591.0,294.2 592.4,294.5 593.9,294.8 595.4,295.1 596.9,295.4 598.4,295.7 599.9,295.9 601.4,296.2 602.9,296.4 604.4,296.7 605.9,296.9 607.4,297.1 608.9,297.3 610.4,297.4 611.9,297.5 613.4,297.5 614.9,297.5 616.4,297.5 617.9,297.5 619.4,297.4 620.9,297.2 622.4,297.0 623.9,296.7 625.4,296.4 626.9,296.0 628.4,295.6 629.9,295.0 631.4,294.5 632.9,293.9 634.4,293.3 635.9,292.7 637.4,292.1 638.9,291.5 640.4,290.9 641.9,290.3 643.4,289.6 644.9,289.0 646.4,288.3 647.9,287.6 649.4,286.9 650.9,286.3 652.4,285.6 653.9,285.0 655.4,284.3 656.9,283.8 658.4,283.3 659.9,282.8 661.4,282.4 662.9,282.0 664.4,281.7 665.9,281.5 667.4,281.3 668.9,281.1 670.4,281.0 671.9,280.8 673.4,280.7 674.9,280.7 676.4,280.6 677.9,280.5 679.4,280.5 680.9,280.5 682.4,280.5 683.9,280.5 685.4,280.5 686.8,280.5 688.3,280.5 689.8,280.5 691.3,280.5 692.8,280.5 694.3,280.5 695.8,280.6 697.3,280.6 698.8,280.6 700.3,280.7 701.8,280.8 703.3,280.9 704.8,281.0 706.3,281.1 707.8,281.3 709.3,281.5 710.8,281.6 712.3,281.8 713.8,282.0 715.3,282.2 716.8,282.4 718.3,282.6 719.8,282.8 721.3,283.0 722.8,283.2 724.3,283.4 725.8,283.7 727.3,283.9 728.8,284.1 730.3,284.3 731.8,284.5 733.3,284.7 734.8,285.0 736.3,285.2 737.8,285.4 739.3,285.7 740.8,285.9 742.3,286.2 743.8,286.5 745.3,286.9 746.8,287.3 748.3,287.7 749.8,288.1 751.3,288.6 752.8,289.0 754.3,289.3 755.8,289.7 757.3,290.0 758.8,290.3 760.3,290.5 761.8,290.8 763.3,291.1 764.8,291.3 766.3,291.6 767.8,291.8 769.3,292.1 770.8,292.3 772.3,292.6 773.8,292.8 775.3,293.0 776.8,293.2 778.3,293.4 779.8,293.6 781.2,293.7 782.7,293.9 784.2,294.0 785.7,294.1 787.2,294.3 788.7,294.4 790.2,294.5 791.7,294.6 793.2,294.6 794.7,294.7 796.2,294.8 797.7,294.9 799.2,294.9 800.7,295.0 802.2,295.0 803.7,295.1 805.2,295.1 806.7,295.1 808.2,295.1 809.7,295.1 811.2,295.0 812.7,294.9 814.2,294.9 815.7,294.8 817.2,294.6 818.7,294.5 820.2,294.3 821.7,294.2 823.2,294.0 824.7,293.8 826.2,293.6 827.7,293.4 829.2,293.2 830.7,293.0 832.2,292.8 833.7,292.5 835.2,292.3 836.7,292.0 838.2,291.8 839.7,291.5 841.2,291.3 842.7,291.1 844.2,290.8 845.7,290.6 847.2,290.4 848.7,290.2 850.2,290.0 851.7,289.8 853.2,289.6 854.7,289.3 856.2,289.1 857.7,288.9 859.2,288.7 860.7,288.5 862.2,288.3 863.7,288.1 865.2,287.8 866.7,287.6 868.2,287.4 869.7,287.2 871.2,286.9 872.7,286.7 874.2,286.5 875.6,286.3 877.1,286.0 878.6,285.8 880.1,285.6 881.6,285.4 883.1,285.1 884.6,284.9 886.1,284.7 887.6,284.5 889.1,284.2 890.6,284.0 892.1,283.8 893.6,283.6 895.1,283.3 896.6,283.1 898.1,282.9 899.6,282.7 901.1,282.4 902.6,282.2 904.1,282.0 905.6,281.8 907.1,281.6 908.6,281.4 910.1,281.2 911.6,281.0 913.1,280.9 914.6,280.7 916.1,280.6 917.6,280.5 919.1,280.4 920.6,280.2 922.1,280.1 923.6,280.0 925.1,279.9 926.6,279.8 928.1,279.7 929.6,279.7 931.1,279.6 932.6,279.5 934.1,279.5 935.6,279.5 937.1,279.4 938.6,279.4 940.1,279.4 941.6,279.4 943.1,279.5 944.6,279.5 946.1,279.6 947.6,279.6 949.1,279.7 950.6,279.7 952.1,279.8 953.6,279.9 955.1,279.9 956.6,280.0 958.1,280.1 959.6,280.2 961.1,280.3 962.6,280.4 964.1,280.5 965.6,280.6 967.1,280.7 968.6,280.8 970.0,281.0 971.5,281.1 973.0,281.2 974.5,281.3 976.0,281.4 977.5,281.5 979.0,281.6 980.5,281.7 982.0,281.9 983.5,282.0 985.0,282.1 986.5,282.2 988.0,282.3 989.5,282.4 991.0,282.5 992.5,282.6 994.0,282.7 995.5,282.8 997.0,282.9 998.5,283.0 1000.0,283.1 1001.5,283.3 1003.0,283.4 1004.5,283.5 1006.0,283.6 1007.5,283.7 1009.0,283.8 1010.5,283.9 1012.0,284.0 1013.5,284.1 1015.0,284.2 1016.5,284.2" stroke="#800080" stroke-width="4.5"/>
<path class="curve" d="M72.5,465.5 74.0,465.2 75.5,464.9 77.0,464.5 78.5,464.1 80.0,463.7 81.5,463.3 83.0,462.9 84.5,462.4 86.0,461.9 87.5,461.4 89.0,460.9 90.5,460.4 92.0,459.9 93.5,459.3 95.0,458.8 96.5,458.2 98.0,457.6 99.5,457.0 101.0,456.4 102.5,455.8 104.0,455.2 105.5,454.6 107.0,454.0 108.5,453.3 110.0,452.7 111.5,452.0 113.0,451.3 114.5,450.6 116.0,449.9 117.5,449.2 119.0,448.5 120.4,447.8 121.9,447.0 123.4,446.3 124.9,445.5 126.4,444.7 127.9,443.8 129.4,443.0 130.9,442.1 132.4,441.3 133.9,440.3 135.4,439.2 136.9,438.0 138.4,436.6 139.9,435.0 141.4,433.1 142.9,431.0 144.4,428.5 145.9,425.8 147.4,422.8 148.9,419.7 150.4,416.6 151.9,413.7 153.4,410.6 154.9,407.8 156.4,406.1 157.9,405.2 159.4,404.4 160.9,403.7 162.4,402.9 163.9,402.2 165.4,401.5 166.9,400.7 168.4,398.8 169.9,395.8 171.4,392.2 172.9,388.6 174.4,384.9 175.9,381.3 177.4,377.6 178.9,373.9 180.4,370.1 181.9,366.8 183.4,365.3 184.9,365.2 186.4,365.2 187.9,364.5 189.4,363.7 190.9,362.9 192.4,362.2 193.9,361.7 195.4,361.2 196.9,361.1 198.4,361.3 199.9,361.9 201.4,362.7 202.9,363.6 204.4,364.6 205.9,365.7 207.4,366.8 208.9,367.8 210.4,368.7 211.9,369.3 213.4,369.6 214.8,369.9 216.3,370.0 217.8,369.8 219.3,368.9 220.8,367.2 222.3,364.7 223.8,361.7 225.3,358.5 226.8,355.0 228.3,351.4 229.8,347.9 231.3,345.1 232.8,343.4 234.3,342.9 235.8,343.7 237.3,345.9 238.8,349.2 240.3,352.6 241.8,356.0 243.3,359.2 244.8,362.4 246.3,365.4 247.8,368.3 249.3,370.9 250.8,373.1 252.3,374.8 253.8,376.2 255.3,377.3 256.8,378.4 258.3,379.3 259.8,380.0 261.3,380.6 262.8,381.0 264.3,381.2 265.8,381.2 267.3,381.1 268.8,380.6 270.3,379.9 271.8,378.9 273.3,377.7 274.8,376.3 276.3,374.8 277.8,373.0 279.3,370.9 280.8,368.4 282.3,365.8 283.8,363.1 285.3,360.5 286.8,357.8 288.3,355.1 289.8,352.3 291.3,349.6 292.8,346.9 294.3,344.2 295.8,341.4 297.3,338.7 298.8,336.0 300.3,333.3 301.8,330.6 303.3,327.8 304.8,325.2 306.3,322.7 307.8,320.4 309.2,318.2 310.7,316.2 312.2,314.5 313.7,313.4 315.2,312.9 316.7,312.8 318.2,312.7 319.7,312.7 321.2,312.4 322.7,311.9 324.2,311.5 325.7,311.1 327.2,310.8 328.7,310.5 330.2,310.3 331.7,310.1 333.2,310.0 334.7,309.8 336.2,309.5 337.7,309.2 339.2,308.8 340.7,308.3 342.2,307.6 343.7,306.6 345.2,305.3 346.7,303.8 348.2,302.3 349.7,300.8 351.2,299.2 352.7,297.6 354.2,295.9 355.7,294.2 357.2,292.6 358.7,290.9 360.2,289.3 361.7,288.0 363.2,287.5 364.7,288.3 366.2,289.6 367.7,290.6 369.2,291.2 370.7,291.7 372.2,291.8 373.7,291.3 375.2,290.6 376.7,289.8 378.2,289.0 379.7,288.4 381.2,287.8 382.7,287.2 384.2,286.9 385.7,286.7 387.2,287.0 388.7,287.4 390.2,287.8 391.7,288.0 393.2,288.0 394.7,287.9 396.2,287.8 397.7,288.0 399.2,288.5 400.7,289.3 402.2,290.2 403.6,291.2 405.1,292.3 406.6,293.6 408.1,294.9 409.6,296.0 411.1,296.9 412.6,297.7 414.1,298.4 415.6,298.9 417.1,299.4 418.6,299.8 420.1,300.0 421.6,299.9 423.1,299.7 424.6,299.1 426.1,298.0 427.6,296.4 429.1,294.5 430.6,291.8 432.1,288.9 433.6,286.4 435.1,284.5 436.6,282.9 438.1,281.7 439.6,280.8 441.1,280.1 442.6,279.7 444.1,279.5 445.6,279.5 447.1,279.7 448.6,280.0 450.1,280.4 451.6,280.9 453.1,281.5 454.6,282.4 456.1,283.3 457.6,284.2 459.1,285.1 460.6,285.8 462.1,286.4 463.6,286.9 465.1,287.4 466.6,287.8 468.1,288.1 469.6,288.3 471.1,288.5 472.6,288.4 474.1,288.2 475.6,287.8 477.1,287.4 478.6,286.8 480.1,286.2 481.6,285.4 483.1,284.7 484.6,283.8 486.1,283.0 487.6,282.1 489.1,281.3 490.6,280.4 492.1,279.4 493.6,278.5 495.1,277.5 496.6,276.5 498.0,275.5 499.5,274.5 501.0,273.4 502.5,272.4 504.0,271.4 505.5,270.4 507.0,269.4 508.5,268.4 510.0,267.5 511.5,266.5 513.0,265.5 514.5,264.6 516.0,263.8 517.5,263.2 519.0,263.0 520.5,262.9 522.0,262.8 523.5,262.7 525.0,262.6 526.5,262.6 528.0,262.5 529.5,262.4 531.0,262.2 532.5,262.1 534.0,262.0 535.5,262.0 537.0,262.1 538.5,262.3 540.0,262.6 541.5,262.9 543.0,263.3 544.5,263.6 546.0,264.0 547.5,264.3 549.0,264.7 550.5,265.1 552.0,265.4 553.5,265.6 555.0,265.5 556.5,265.3 558.0,265.0 559.5,264.7 561.0,264.5 562.5,264.5 564.0,264.6 565.5,264.8 567.0,264.9 568.5,265.1 570.0,265.3 571.5,265.5 573.0,265.8 574.5,266.1 576.0,266.3 577.5,266.6 579.0,266.9 580.5,267.1 582.0,267.2 583.5,267.3 585.0,267.4 586.5,267.5 588.0,267.6 589.5,267.7 591.0,267.8 592.4,268.0 593.9,268.2 595.4,268.4 596.9,268.7 598.4,268.9 599.9,269.2 601.4,269.4 602.9,269.7 604.4,269.9 605.9,270.1 607.4,270.4 608.9,270.6 610.4,270.7 611.9,270.9 613.4,271.1 614.9,271.2 616.4,271.2 617.9,271.2 619.4,271.2 620.9,271.0 622.4,270.8 623.9,270.4 625.4,270.1 626.9,269.7 628.4,269.2 629.9,268.8 631.4,268.3 632.9,267.9 634.4,267.4 635.9,266.9 637.4,266.4 638.9,265.9 640.4,265.3 641.9,264.7 643.4,264.1 644.9,263.5 646.4,262.8 647.9,262.0 649.4,261.3 650.9,260.6 652.4,259.9 653.9,259.2 655.4,258.6 656.9,258.0 658.4,257.5 659.9,257.0 661.4,256.5 662.9,256.1 664.4,255.7 665.9,255.3 667.4,255.0 668.9,254.7 670.4,254.4 671.9,254.2 673.4,253.9 674.9,253.7 676.4,253.5 677.9,253.2 679.4,253.1 680.9,252.9 682.4,252.8 683.9,252.6 685.4,252.5 686.8,252.3 688.3,252.2 689.8,252.0 691.3,251.9 692.8,251.7 694.3,251.6 695.8,251.4 697.3,251.2 698.8,251.0 700.3,250.9 701.8,250.8 703.3,250.8 704.8,250.8 706.3,250.9 707.8,251.1 709.3,251.4 710.8,251.7 712.3,252.0 713.8,252.3 715.3,252.5 716.8,252.7 718.3,252.9 719.8,253.1 721.3,253.3 722.8,253.5 724.3,253.7 725.8,253.9 727.3,254.1 728.8,254.3 730.3,254.5 731.8,254.8 733.3,255.0 734.8,255.3 736.3,255.6 737.8,255.9 739.3,256.2 740.8,256.6 742.3,256.9 743.8,257.4 745.3,257.8 746.8,258.4 748.3,258.9 749.8,259.5 751.3,260.0 752.8,260.6 754.3,261.0 755.8,261.5 757.3,261.9 758.8,262.3 760.3,262.7 761.8,263.1 763.3,263.4 764.8,263.8 766.3,264.2 767.8,264.6 769.3,264.9 770.8,265.3 772.3,265.6 773.8,266.0 775.3,266.3 776.8,266.6 778.3,266.9 779.8,267.2 781.2,267.5 782.7,267.8 784.2,268.1 785.7,268.3 787.2,268.5 788.7,268.6 790.2,268.8 791.7,268.9 793.2,269.1 794.7,269.2 796.2,269.2 797.7,269.3 799.2,269.3 800.7,269.3 802.2,269.3 803.7,269.3 805.2,269.3 806.7,269.3 808.2,269.2 809.7,269.2 811.2,269.1 812.7,269.0 814.2,268.9 815.7,268.7 817.2,268.5 818.7,268.2 820.2,267.8 821.7,267.5 823.2,267.1 824.7,266.8 826.2,266.4 827.7,266.0 829.2,265.6 830.7,265.2 832.2,264.8 833.7,264.4 835.2,263.9 836.7,263.5 838.2,263.2 839.7,262.9 841.2,262.6 842.7,262.4 844.2,262.2 845.7,262.1 847.2,261.9 848.7,261.8 850.2,261.7 851.7,261.6 853.2,261.5 854.7,261.4 856.2,261.3 857.7,261.2 859.2,261.0 860.7,260.9 862.2,260.7 863.7,260.5 865.2,260.3 866.7,260.1 868.2,259.9 869.7,259.7 871.2,259.5 872.7,259.3 874.2,259.1 875.6,258.9 877.1,258.7 878.6,258.4 880.1,258.2 881.6,258.0 883.1,257.8 884.6,257.6 886.1,257.4 887.6,257.2 889.1,257.0 890.6,256.8 892.1,256.6 893.6,256.4 895.1,256.2 896.6,256.0 898.1,255.8 899.6,255.6 901.1,255.4 902.6,255.2 904.1,255.1 905.6,254.9 907.1,254.7 908.6,254.5 910.1,254.4 911.6,254.2 913.1,254.1 914.6,254.0 916.1,253.9 917.6,253.8 919.1,253.7 920.6,253.7 922.1,253.6 923.6,253.6 925.1,253.5 926.6,253.5 928.1,253.5 929.6,253.5 931.1,253.4 932.6,253.4 934.1,253.5 935.6,253.5 937.1,253.5 938.6,253.5 940.1,253.6 941.6,253.6 943.1,253.7 944.6,253.8 946.1,253.9 947.6,253.9 949.1,254.0 950.6,254.1 952.1,254.3 953.6,254.4 955.1,254.5 956.6,254.7 958.1,254.8 959.6,255.0 961.1,255.1 962.6,255.3 964.1,255.5 965.6,255.7 967.1,255.9 968.6,256.2 970.0,256.4 971.5,256.7 973.0,256.9 974.5,257.2 976.0,257.5 977.5,257.7 979.0,258.0 980.5,258.2 982.0,258.5 983.5,258.7 985.0,258.9 986.5,259.1 988.0,259.3 989.5,259.5 991.0,259.7 992.5,259.8 994.0,260.0 995.5,260.2 997.0,260.3 998.5,260.5 1000.0,260.6 1001.5,260.8 1003.0,260.9 1004.5,261.0 1006.0,261.1 1007.5,261.1 1009.0,261.2 1010.5,261.2 1012.0,261.2 1013.5,261.3 1015.0,261.3 1016.5,261.2" stroke="#800000" stroke-width="4.5"/>
<path class="curve" d="M72.5,420.1 74.0,419.8 75.5,419.7 77.0,419.7 78.5,419.6 80.0,419.3 81.5,419.0 83.0,418.7 84.5,418.5 86.0,418.1 87.5,417.5 89.0,417.2 90.5,416.8 92.0,416.3 93.5,415.9 95.0,415.4 96.5,415.1 98.0,414.9 99.5,414.8 101.0,414.7 102.5,414.6 104.0,414.3 105.5,414.0 107.0,413.8 108.5,413.4 110.0,412.8 111.5,412.2 113.0,411.7 114.5,411.1 116.0,410.3 117.5,409.4 119.0,408.6 120.4,407.5 121.9,406.3 123.4,405.3 124.9,404.8 126.4,404.5 127.9,404.1 129.4,403.4 130.9,402.5 132.4,401.5 133.9,400.8 135.4,400.4 136.9,399.7 138.4,398.7 139.9,397.5 141.4,396.2 142.9,394.7 144.4,392.5 145.9,389.6 147.4,386.0 148.9,382.0 150.4,377.9 151.9,373.8 153.4,370.1 154.9,366.4 156.4,363.1 157.9,361.5 159.4,361.8 160.9,363.3 162.4,364.6 163.9,365.6 165.4,365.2 166.9,362.6 168.4,359.1 169.9,354.9 171.4,350.6 172.9,346.9 174.4,343.6 175.9,340.7 177.4,338.7 178.9,337.6 180.4,336.7 181.9,336.2 183.4,335.6 184.9,334.8 186.4,333.9 187.9,333.2 189.4,332.3 190.9,331.1 192.4,330.1 193.9,329.3 195.4,328.7 196.9,329.0 198.4,329.7 199.9,330.7 201.4,331.9 202.9,333.4 204.4,335.0 205.9,336.3 207.4,337.5 208.9,338.4 210.4,338.7 211.9,339.0 213.4,339.5 214.8,340.0 216.3,340.3 217.8,340.7 219.3,340.8 220.8,340.6 222.3,339.2 223.8,337.0 225.3,334.4 226.8,331.7 228.3,329.0 229.8,326.6 231.3,324.7 232.8,323.7 234.3,323.6 235.8,324.2 237.3,325.8 238.8,328.4 240.3,331.2 241.8,334.2 243.3,337.0 244.8,339.0 246.3,341.0 247.8,342.8 249.3,344.3 250.8,345.6 252.3,346.6 253.8,347.5 255.3,348.1 256.8,348.7 258.3,349.3 259.8,350.0 261.3,350.5 262.8,350.7 264.3,351.1 265.8,351.4 267.3,351.3 268.8,351.2 270.3,350.9 271.8,350.1 273.3,349.2 274.8,348.4 276.3,347.3 277.8,346.1 279.3,344.7 280.8,342.8 282.3,340.6 283.8,338.5 285.3,336.2 286.8,333.8 288.3,331.3 289.8,328.4 291.3,325.1 292.8,321.8 294.3,318.7 295.8,315.4 297.3,312.2 298.8,309.4 300.3,306.8 301.8,304.1 303.3,301.6 304.8,299.1 306.3,296.3 307.8,293.5 309.2,291.0 310.7,289.1 312.2,287.2 313.7,285.6 315.2,284.7 316.7,284.5 318.2,284.6 319.7,284.4 321.2,284.1 322.7,283.7 324.2,282.9 325.7,282.3 327.2,281.8 328.7,281.2 330.2,280.5 331.7,280.2 333.2,279.9 334.7,279.5 336.2,278.9 337.7,277.9 339.2,276.9 340.7,275.8 342.2,274.3 343.7,272.7 345.2,270.9 346.7,268.9 348.2,266.6 349.7,264.4 351.2,262.3 352.7,259.9 354.2,257.7 355.7,255.8 357.2,254.0 358.7,252.3 360.2,250.6 361.7,249.1 363.2,248.3 364.7,249.1 366.2,250.6 367.7,251.6 369.2,252.5 370.7,252.7 372.2,252.1 373.7,251.3 375.2,250.3 376.7,249.2 378.2,248.4 379.7,247.6 381.2,246.8 382.7,246.0 384.2,245.5 385.7,245.1 387.2,244.6 388.7,244.0 390.2,243.5 391.7,243.1 393.2,242.9 394.7,242.9 396.2,242.6 397.7,242.2 399.2,241.9 400.7,242.0 402.2,242.4 403.6,243.1 405.1,244.2 406.6,245.5 408.1,246.7 409.6,247.7 411.1,248.5 412.6,249.4 414.1,250.6 415.6,251.8 417.1,252.7 418.6,253.3 420.1,253.9 421.6,254.1 423.1,253.9 424.6,253.5 426.1,252.7 427.6,251.5 429.1,249.8 430.6,248.0 432.1,246.4 433.6,244.9 435.1,243.7 436.6,242.5 438.1,241.2 439.6,240.3 441.1,239.9 442.6,239.2 444.1,238.5 445.6,237.9 447.1,237.4 448.6,237.1 450.1,236.6 451.6,235.9 453.1,235.5 454.6,235.0 456.1,234.3 457.6,233.9 459.1,234.1 460.6,234.3 462.1,234.4 463.6,234.4 465.1,234.5 466.6,235.0 468.1,235.4 469.6,235.6 471.1,235.9 472.6,235.8 474.1,235.6 475.6,235.5 477.1,235.0 478.6,234.2 480.1,233.7 481.6,233.5 483.1,233.2 484.6,232.5 486.1,231.7 487.6,231.2 489.1,230.4 490.6,229.2 492.1,228.2 493.6,227.5 495.1,226.7 496.6,225.7 498.0,224.5 499.5,223.4 501.0,222.4 502.5,221.6 504.0,220.9 505.5,220.1 507.0,219.4 508.5,218.6 510.0,217.8 511.5,217.2 513.0,216.4 514.5,215.7 516.0,215.2 517.5,214.8 519.0,214.5 520.5,213.8 522.0,213.2 523.5,213.1 525.0,212.9 526.5,212.6 528.0,212.1 529.5,211.8 531.0,211.8 532.5,211.8 534.0,211.9 535.5,212.3 537.0,212.4 538.5,212.3 540.0,212.3 541.5,212.4 543.0,212.4 544.5,212.6 546.0,213.0 547.5,213.5 549.0,213.6 550.5,213.7 552.0,214.2 553.5,214.7 555.0,214.8 556.5,214.8 558.0,215.2 559.5,215.6 561.0,215.7 562.5,216.0 564.0,216.5 565.5,216.9 567.0,217.2 568.5,217.3 570.0,217.5 571.5,217.8 573.0,218.1 574.5,218.4 576.0,218.6 577.5,218.8 579.0,219.2 580.5,219.4 582.0,219.3 583.5,219.3 585.0,219.4 586.5,219.6 588.0,219.8 589.5,220.2 591.0,220.3 592.4,220.2 593.9,220.4 595.4,220.7 596.9,221.1 598.4,221.6 599.9,222.0 601.4,222.3 602.9,222.5 604.4,222.8 605.9,223.4 607.4,223.9 608.9,224.1 610.4,224.5 611.9,225.1 613.4,225.5 614.9,225.7 616.4,226.1 617.9,226.3 619.4,226.2 620.9,226.2 622.4,226.2 623.9,225.8 625.4,225.5 626.9,225.6 628.4,225.8 629.9,225.8 631.4,225.7 632.9,226.0 634.4,226.5 635.9,227.1 637.4,227.6 638.9,227.7 640.4,227.3 641.9,226.9 643.4,226.4 644.9,225.8 646.4,225.2 647.9,224.9 649.4,224.7 650.9,224.4 652.4,224.0 653.9,223.5 655.4,223.2 656.9,222.8 658.4,222.2 659.9,221.7 661.4,221.5 662.9,221.2 664.4,220.7 665.9,220.3 667.4,220.1 668.9,220.0 670.4,219.6 671.9,219.1 673.4,218.9 674.9,218.6 676.4,218.2 677.9,218.0 679.4,218.0 680.9,218.2 682.4,218.0 683.9,217.5 685.4,217.3 686.8,217.3 688.3,217.2 689.8,217.0 691.3,216.9 692.8,217.0 694.3,216.9 695.8,216.7 697.3,216.6 698.8,216.6 700.3,216.5 701.8,216.5 703.3,216.5 704.8,216.8 706.3,217.0 707.8,217.2 709.3,217.0 710.8,217.0 712.3,217.2 713.8,217.3 715.3,217.5 716.8,217.8 718.3,218.1 719.8,218.5 721.3,218.6 722.8,218.6 724.3,218.7 725.8,219.1 727.3,219.8 728.8,220.1 730.3,220.3 731.8,220.6 733.3,220.9 734.8,221.2 736.3,221.4 737.8,221.6 739.3,221.8 740.8,222.2 742.3,222.5 743.8,222.7 745.3,223.1 746.8,223.6 748.3,224.2 749.8,224.4 751.3,224.4 752.8,224.8 754.3,225.5 755.8,225.9 757.3,226.0 758.8,226.5 760.3,227.3 761.8,227.9 763.3,228.1 764.8,228.2 766.3,228.3 767.8,228.6 769.3,229.1 770.8,229.6 772.3,230.2 773.8,230.5 775.3,230.6 776.8,230.9 778.3,231.5 779.8,231.8 781.2,231.8 782.7,231.9 784.2,232.1 785.7,232.3 787.2,232.7 788.7,233.2 790.2,233.3 791.7,233.3 793.2,233.2 794.7,233.2 796.2,233.1 797.7,233.0 799.2,233.1 800.7,232.9 802.2,232.8 803.7,232.7 805.2,232.6 806.7,232.5 808.2,232.5 809.7,232.4 811.2,232.1 812.7,232.0 814.2,232.0 815.7,231.8 817.2,231.6 818.7,231.6 820.2,231.3 821.7,230.8 823.2,230.6 824.7,230.7 826.2,230.7 827.7,230.3 829.2,229.4 830.7,228.5 832.2,227.9 833.7,227.6 835.2,227.4 836.7,227.0 838.2,226.5 839.7,226.1 841.2,226.0 842.7,226.1 844.2,226.1 845.7,225.9 847.2,225.5 848.7,225.3 850.2,225.3 851.7,225.4 853.2,225.3 854.7,225.2 856.2,225.1 857.7,224.9 859.2,224.9 860.7,224.8 862.2,224.5 863.7,224.1 865.2,224.1 866.7,224.2 868.2,224.1 869.7,223.8 871.2,223.7 872.7,223.6 874.2,223.2 875.6,222.9 877.1,222.8 878.6,222.8 880.1,222.6 881.6,222.6 883.1,222.4 884.6,222.0 886.1,221.8 887.6,221.6 889.1,221.2 890.6,221.0 892.1,220.7 893.6,220.3 895.1,220.2 896.6,220.3 898.1,220.2 899.6,219.9 901.1,219.7 902.6,219.6 904.1,219.4 905.6,219.3 907.1,219.3 908.6,219.2 910.1,219.0 911.6,218.9 913.1,219.1 914.6,219.1 916.1,219.0 917.6,218.9 919.1,218.9 920.6,218.9 922.1,218.9 923.6,219.0 925.1,218.9 926.6,218.9 928.1,218.9 929.6,218.9 931.1,218.9 932.6,218.8 934.1,218.8 935.6,218.9 937.1,219.1 938.6,219.2 940.1,219.2 941.6,219.1 943.1,219.3 944.6,219.6 946.1,219.8 947.6,220.0 949.1,220.0 950.6,220.0 952.1,220.1 953.6,220.4 955.1,220.5 956.6,220.6 958.1,221.0 959.6,221.4 961.1,221.6 962.6,221.6 964.1,221.4 965.6,221.5 967.1,221.7 968.6,221.9 970.0,222.1 971.5,222.4 973.0,222.4 974.5,222.5 976.0,222.8 977.5,223.0 979.0,223.1 980.5,223.2 982.0,223.3 983.5,223.4 985.0,223.6 986.5,223.9 988.0,224.0 989.5,224.0 991.0,224.3 992.5,224.3 994.0,224.5 995.5,224.7 997.0,224.9 998.5,225.0 1000.0,224.9 1001.5,225.0 1003.0,225.1 1004.5,225.1 1006.0,225.2 1007.5,225.3 1009.0,225.1 1010.5,225.0 1012.0,225.1 1013.5,225.2 1015.0,225.1 1016.5,225.1" stroke="#808000" stroke-width="4.5"/>
<path class="curve" d="M72.5,387.5 74.0,387.3 75.5,387.0 77.0,386.8 78.5,386.5 80.0,386.3 81.5,386.1 83.0,385.8 84.5,385.6 86.0,385.3 87.5,385.1 89.0,384.9 90.5,384.6 92.0,384.4 93.5,384.1 95.0,383.9 96.5,383.6 98.0,383.3 99.5,382.9 101.0,382.5 102.5,382.0 104.0,381.6 105.5,381.1 107.0,380.7 108.5,380.2 110.0,379.8 111.5,379.4 113.0,379.0 114.5,378.6 116.0,378.1 117.5,377.7 119.0,377.3 120.4,376.9 121.9,376.4 123.4,376.0 124.9,375.5 126.4,375.0 127.9,374.5 129.4,374.0 130.9,373.5 132.4,373.0 133.9,372.5 135.4,371.8 136.9,371.0 138.4,370.0 139.9,368.8 141.4,367.4 142.9,365.6 144.4,363.7 145.9,361.8 147.4,359.9 148.9,357.7 150.4,355.3 151.9,352.1 153.4,347.9 154.9,343.4 156.4,338.2 157.9,333.2 159.4,331.2 160.9,331.9 162.4,333.5 163.9,334.4 165.4,335.0 166.9,335.0 168.4,334.2 169.9,332.2 171.4,328.9 172.9,324.8 174.4,320.7 175.9,316.7 177.4,312.7 178.9,308.8 180.4,305.3 181.9,302.7 183.4,301.0 184.9,299.7 186.4,297.8 187.9,295.7 189.4,293.6 190.9,291.7 192.4,290.4 193.9,289.4 195.4,288.6 196.9,288.5 198.4,289.4 199.9,290.5 201.4,291.6 202.9,292.8 204.4,294.0 205.9,295.2 207.4,296.4 208.9,297.6 210.4,298.4 211.9,298.9 213.4,299.1 214.8,299.2 216.3,299.4 217.8,299.2 219.3,298.3 220.8,296.3 222.3,294.1 223.8,291.8 225.3,289.5 226.8,287.0 228.3,284.6 229.8,282.2 231.3,280.7 232.8,280.4 234.3,280.6 235.8,281.1 237.3,282.3 238.8,284.2 240.3,286.4 241.8,288.7 243.3,290.7 244.8,292.5 246.3,294.3 247.8,295.9 249.3,297.3 250.8,298.5 252.3,299.3 253.8,300.0 255.3,300.5 256.8,300.9 258.3,301.2 259.8,301.4 261.3,301.7 262.8,301.9 264.3,302.0 265.8,302.0 267.3,301.9 268.8,301.7 270.3,301.4 271.8,301.0 273.3,300.5 274.8,300.0 276.3,299.5 277.8,298.9 279.3,298.2 280.8,297.4 282.3,296.6 283.8,295.6 285.3,294.4 286.8,293.1 288.3,291.6 289.8,289.9 291.3,288.0 292.8,285.9 294.3,283.6 295.8,281.3 297.3,278.9 298.8,276.6 300.3,274.2 301.8,271.9 303.3,269.6 304.8,267.3 306.3,265.0 307.8,262.8 309.2,260.7 310.7,258.7 312.2,257.0 313.7,255.5 315.2,254.0 316.7,252.6 318.2,251.1 319.7,249.9 321.2,249.0 322.7,248.1 324.2,247.4 325.7,246.6 327.2,245.9 328.7,245.2 330.2,244.5 331.7,243.8 333.2,243.2 334.7,242.6 336.2,241.9 337.7,241.2 339.2,240.4 340.7,239.3 342.2,238.1 343.7,236.8 345.2,235.4 346.7,233.9 348.2,232.4 349.7,230.8 351.2,229.1 352.7,227.4 354.2,225.6 355.7,223.6 357.2,221.4 358.7,219.2 360.2,217.3 361.7,215.7 363.2,215.3 364.7,216.0 366.2,217.0 367.7,217.8 369.2,218.4 370.7,219.0 372.2,219.3 373.7,219.4 375.2,218.9 376.7,218.2 378.2,217.2 379.7,216.1 381.2,214.7 382.7,213.2 384.2,211.8 385.7,210.9 387.2,210.1 388.7,209.4 390.2,208.8 391.7,208.2 393.2,207.6 394.7,206.9 396.2,206.3 397.7,205.8 399.2,205.7 400.7,206.1 402.2,206.9 403.6,207.8 405.1,208.8 406.6,209.8 408.1,210.9 409.6,211.9 411.1,212.9 412.6,213.8 414.1,214.7 415.6,215.4 417.1,216.0 418.6,216.5 420.1,217.0 421.6,217.5 423.1,217.7 424.6,217.6 426.1,217.1 427.6,216.2 429.1,215.2 430.6,214.0 432.1,212.7 433.6,211.2 435.1,210.0 436.6,209.0 438.1,208.2 439.6,207.7 441.1,207.5 442.6,207.6 444.1,207.7 445.6,207.8 447.1,207.9 448.6,208.0 450.1,208.1 451.6,208.2 453.1,208.3 454.6,208.3 456.1,208.4 457.6,208.5 459.1,208.6 460.6,208.7 462.1,208.8 463.6,208.8 465.1,208.8 466.6,208.7 468.1,208.6 469.6,208.5 471.1,208.3 472.6,208.2 474.1,208.0 475.6,207.8 477.1,207.5 478.6,207.2 480.1,206.9 481.6,206.4 483.1,205.9 484.6,205.3 486.1,204.6 487.6,203.9 489.1,203.2 490.6,202.5 492.1,201.7 493.6,201.0 495.1,200.2 496.6,199.5 498.0,198.7 499.5,197.9 501.0,197.1 502.5,196.3 504.0,195.5 505.5,194.8 507.0,194.0 508.5,193.2 510.0,192.5 511.5,191.9 513.0,191.3 514.5,190.8 516.0,190.3 517.5,189.8 519.0,189.4 520.5,188.9 522.0,188.5 523.5,188.2 525.0,187.8 526.5,187.5 528.0,187.3 529.5,187.1 531.0,186.9 532.5,186.7 534.0,186.6 535.5,186.5 537.0,186.4 538.5,186.4 540.0,186.3 541.5,186.3 543.0,186.2 544.5,186.2 546.0,186.2 547.5,186.2 549.0,186.2 550.5,186.2 552.0,186.2 553.5,186.3 555.0,186.3 556.5,186.4 558.0,186.5 559.5,186.7 561.0,186.8 562.5,187.0 564.0,187.2 565.5,187.4 567.0,187.6 568.5,187.8 570.0,188.0 571.5,188.2 573.0,188.5 574.5,188.8 576.0,189.1 577.5,189.4 579.0,189.7 580.5,189.9 582.0,190.0 583.5,190.1 585.0,190.1 586.5,190.2 588.0,190.2 589.5,190.3 591.0,190.4 592.4,190.5 593.9,190.7 595.4,190.8 596.9,191.0 598.4,191.2 599.9,191.4 601.4,191.6 602.9,191.7 604.4,191.9 605.9,192.1 607.4,192.3 608.9,192.5 610.4,192.8 611.9,193.0 613.4,193.2 614.9,193.4 616.4,193.6 617.9,193.8 619.4,194.0 620.9,194.1 622.4,194.2 623.9,194.2 625.4,194.2 626.9,194.2 628.4,194.2 629.9,194.2 631.4,194.0 632.9,193.9 634.4,193.7 635.9,193.4 637.4,193.1 638.9,192.8 640.4,192.4 641.9,191.9 643.4,191.4 644.9,190.9 646.4,190.3 647.9,189.8 649.4,189.2 650.9,188.7 652.4,188.3 653.9,187.9 655.4,187.4 656.9,187.0 658.4,186.6 659.9,186.2 661.4,185.8 662.9,185.5 664.4,185.1 665.9,184.8 667.4,184.5 668.9,184.2 670.4,184.0 671.9,183.7 673.4,183.4 674.9,183.2 676.4,183.0 677.9,182.8 679.4,182.6 680.9,182.4 682.4,182.2 683.9,182.1 685.4,181.9 686.8,181.8 688.3,181.6 689.8,181.5 691.3,181.4 692.8,181.2 694.3,181.1 695.8,181.0 697.3,180.8 698.8,180.7 700.3,180.6 701.8,180.6 703.3,180.5 704.8,180.5 706.3,180.5 707.8,180.6 709.3,180.6 710.8,180.7 712.3,180.8 713.8,180.9 715.3,181.1 716.8,181.2 718.3,181.3 719.8,181.5 721.3,181.6 722.8,181.7 724.3,181.9 725.8,182.0 727.3,182.2 728.8,182.3 730.3,182.5 731.8,182.7 733.3,183.0 734.8,183.2 736.3,183.4 737.8,183.6 739.3,183.9 740.8,184.2 742.3,184.5 743.8,184.8 745.3,185.0 746.8,185.3 748.3,185.6 749.8,185.9 751.3,186.2 752.8,186.5 754.3,186.9 755.8,187.2 757.3,187.5 758.8,187.8 760.3,188.1 761.8,188.4 763.3,188.7 764.8,189.0 766.3,189.3 767.8,189.7 769.3,189.9 770.8,190.2 772.3,190.5 773.8,190.7 775.3,191.0 776.8,191.2 778.3,191.4 779.8,191.7 781.2,191.9 782.7,192.1 784.2,192.3 785.7,192.5 787.2,192.6 788.7,192.8 790.2,192.9 791.7,193.0 793.2,193.2 794.7,193.2 796.2,193.3 797.7,193.3 799.2,193.4 800.7,193.3 802.2,193.3 803.7,193.3 805.2,193.2 806.7,193.1 808.2,193.0 809.7,192.9 811.2,192.8 812.7,192.6 814.2,192.5 815.7,192.3 817.2,192.0 818.7,191.8 820.2,191.5 821.7,191.3 823.2,191.0 824.7,190.7 826.2,190.5 827.7,190.2 829.2,190.0 830.7,189.7 832.2,189.5 833.7,189.3 835.2,189.0 836.7,188.8 838.2,188.6 839.7,188.4 841.2,188.1 842.7,187.9 844.2,187.8 845.7,187.6 847.2,187.4 848.7,187.3 850.2,187.2 851.7,187.1 853.2,187.0 854.7,186.9 856.2,186.8 857.7,186.7 859.2,186.6 860.7,186.5 862.2,186.4 863.7,186.3 865.2,186.1 866.7,186.0 868.2,185.8 869.7,185.7 871.2,185.5 872.7,185.4 874.2,185.2 875.6,185.1 877.1,184.9 878.6,184.8 880.1,184.6 881.6,184.5 883.1,184.4 884.6,184.2 886.1,184.1 887.6,184.0 889.1,183.8 890.6,183.7 892.1,183.6 893.6,183.4 895.1,183.3 896.6,183.2 898.1,183.1 899.6,182.9 901.1,182.8 902.6,182.7 904.1,182.6 905.6,182.5 907.1,182.4 908.6,182.3 910.1,182.2 911.6,182.1 913.1,182.0 914.6,182.0 916.1,181.9 917.6,181.9 919.1,181.9 920.6,181.9 922.1,181.9 923.6,181.9 925.1,181.9 926.6,182.0 928.1,182.0 929.6,182.0 931.1,182.0 932.6,182.1 934.1,182.1 935.6,182.1 937.1,182.2 938.6,182.2 940.1,182.3 941.6,182.4 943.1,182.4 944.6,182.5 946.1,182.6 947.6,182.8 949.1,182.9 950.6,183.0 952.1,183.1 953.6,183.2 955.1,183.3 956.6,183.4 958.1,183.5 959.6,183.6 961.1,183.7 962.6,183.8 964.1,183.9 965.6,184.0 967.1,184.1 968.6,184.3 970.0,184.4 971.5,184.5 973.0,184.6 974.5,184.7 976.0,184.8 977.5,184.9 979.0,185.0 980.5,185.1 982.0,185.2 983.5,185.4 985.0,185.5 986.5,185.6 988.0,185.8 989.5,185.9 991.0,186.0 992.5,186.1 994.0,186.3 995.5,186.3 997.0,186.4 998.5,186.5 1000.0,186.5 1001.5,186.6 1003.0,186.6 1004.5,186.7 1006.0,186.7 1007.5,186.8 1009.0,186.8 1010.5,186.9 1012.0,186.9 1013.5,186.9 1015.0,187.0 1016.5,187.0" stroke="#2363aa" stroke-width="4.5"/>
<path class="curve" d="M72.5,353.1 74.0,352.6 75.5,352.2 77.0,351.9 78.5,351.5 80.0,351.0 81.5,350.6 83.0,350.1 84.5,349.7 86.0,349.2 87.5,348.6 89.0,348.2 90.5,347.7 92.0,347.2 93.5,346.6 95.0,346.1 96.5,345.5 98.0,345.0 99.5,344.5 101.0,344.0 102.5,343.4 104.0,342.8 105.5,342.3 107.0,341.7 108.5,341.0 110.0,340.3 111.5,339.5 113.0,338.7 114.5,338.0 116.0,337.1 117.5,336.3 119.0,335.5 120.4,334.7 121.9,333.8 123.4,332.9 124.9,332.2 126.4,331.4 127.9,330.6 129.4,329.6 130.9,328.5 132.4,327.4 133.9,326.3 135.4,325.1 136.9,323.7 138.4,321.9 139.9,320.0 141.4,317.8 142.9,315.6 144.4,313.3 145.9,311.0 147.4,308.6 148.9,306.1 150.4,303.3 151.9,300.2 153.4,296.6 154.9,292.9 156.4,289.4 157.9,286.3 159.4,283.6 160.9,282.0 162.4,281.4 163.9,281.3 165.4,281.5 166.9,281.4 168.4,280.4 169.9,278.5 171.4,275.4 172.9,271.2 174.4,266.8 175.9,262.6 177.4,259.0 178.9,255.7 180.4,253.1 181.9,251.7 183.4,250.9 184.9,250.2 186.4,249.8 187.9,249.7 189.4,249.8 190.9,249.5 192.4,248.7 193.9,247.7 195.4,246.6 196.9,245.7 198.4,244.7 199.9,244.3 201.4,244.9 202.9,246.1 204.4,247.3 205.9,248.5 207.4,249.9 208.9,251.2 210.4,252.1 211.9,252.5 213.4,252.6 214.8,252.5 216.3,252.3 217.8,251.7 219.3,250.7 220.8,249.0 222.3,246.2 223.8,242.3 225.3,237.8 226.8,233.1 228.3,229.1 229.8,225.5 231.3,222.3 232.8,220.2 234.3,220.0 235.8,221.5 237.3,224.8 238.8,228.4 240.3,232.0 241.8,235.8 243.3,239.7 244.8,243.3 246.3,246.7 247.8,249.6 249.3,252.1 250.8,254.4 252.3,256.6 253.8,258.6 255.3,260.3 256.8,261.8 258.3,263.2 259.8,264.4 261.3,265.2 262.8,265.8 264.3,266.2 265.8,266.3 267.3,266.0 268.8,265.6 270.3,265.0 271.8,263.9 273.3,262.7 274.8,261.5 276.3,260.1 277.8,258.3 279.3,256.1 280.8,253.5 282.3,250.8 283.8,248.2 285.3,245.6 286.8,242.9 288.3,240.3 289.8,237.6 291.3,234.8 292.8,232.1 294.3,229.5 295.8,226.7 297.3,223.9 298.8,221.2 300.3,218.5 301.8,215.8 303.3,213.2 304.8,210.6 306.3,207.9 307.8,205.1 309.2,202.6 310.7,200.8 312.2,199.4 313.7,198.3 315.2,197.8 316.7,197.5 318.2,197.1 319.7,196.5 321.2,196.2 322.7,196.0 324.2,195.6 325.7,195.2 327.2,195.0 328.7,194.6 330.2,194.2 331.7,194.0 333.2,194.0 334.7,194.0 336.2,194.0 337.7,193.8 339.2,193.6 340.7,193.3 342.2,192.6 343.7,191.6 345.2,190.1 346.7,188.4 348.2,186.5 349.7,184.7 351.2,183.0 352.7,181.1 354.2,179.1 355.7,177.3 357.2,175.6 358.7,174.2 360.2,172.9 361.7,171.8 363.2,171.5 364.7,172.2 366.2,173.5 367.7,174.6 369.2,175.5 370.7,176.4 372.2,176.9 373.7,177.1 375.2,176.6 376.7,175.7 378.2,174.8 379.7,173.9 381.2,173.2 382.7,172.4 384.2,172.0 385.7,172.2 387.2,172.6 388.7,173.1 390.2,173.7 391.7,174.2 393.2,174.6 394.7,174.9 396.2,175.0 397.7,175.1 399.2,175.6 400.7,176.6 402.2,177.7 403.6,178.6 405.1,179.6 406.6,180.7 408.1,181.7 409.6,182.7 411.1,183.6 412.6,184.5 414.1,185.5 415.6,186.6 417.1,187.3 418.6,187.7 420.1,188.1 421.6,188.2 423.1,188.1 424.6,187.6 426.1,186.6 427.6,185.0 429.1,182.4 430.6,179.2 432.1,176.3 433.6,174.1 435.1,172.5 436.6,171.2 438.1,170.0 439.6,169.3 441.1,168.9 442.6,168.6 444.1,168.6 445.6,169.1 447.1,169.6 448.6,170.3 450.1,171.0 451.6,171.6 453.1,172.4 454.6,173.2 456.1,173.8 457.6,174.5 459.1,175.3 460.6,176.0 462.1,176.5 463.6,176.9 465.1,177.2 466.6,177.6 468.1,177.9 469.6,178.1 471.1,178.3 472.6,178.3 474.1,178.3 475.6,178.3 477.1,178.0 478.6,177.6 480.1,177.2 481.6,176.9 483.1,176.3 484.6,175.4 486.1,174.3 487.6,173.2 489.1,172.0 490.6,170.5 492.1,169.3 493.6,168.2 495.1,167.1 496.6,166.0 498.0,164.8 499.5,163.6 501.0,162.4 502.5,161.3 504.0,160.2 505.5,159.2 507.0,158.2 508.5,157.2 510.0,156.2 511.5,155.4 513.0,154.5 514.5,153.7 516.0,153.1 517.5,152.6 519.0,152.2 520.5,151.7 522.0,151.3 523.5,151.2 525.0,151.1 526.5,150.8 528.0,150.5 529.5,150.4 531.0,150.3 532.5,150.3 534.0,150.4 535.5,150.6 537.0,150.7 538.5,150.8 540.0,150.9 541.5,151.1 543.0,151.2 544.5,151.4 546.0,151.7 547.5,151.9 549.0,151.8 550.5,151.7 552.0,151.7 553.5,151.6 555.0,151.4 556.5,151.2 558.0,151.2 559.5,151.3 561.0,151.4 562.5,151.6 564.0,151.9 565.5,152.2 567.0,152.5 568.5,152.7 570.0,153.0 571.5,153.3 573.0,153.8 574.5,154.2 576.0,154.6 577.5,155.0 579.0,155.5 580.5,155.7 582.0,155.8 583.5,155.8 585.0,155.9 586.5,155.9 588.0,156.1 589.5,156.3 591.0,156.4 592.4,156.5 593.9,156.6 595.4,156.8 596.9,157.1 598.4,157.4 599.9,157.6 601.4,157.8 602.9,158.0 604.4,158.1 605.9,158.4 607.4,158.6 608.9,158.6 610.4,158.7 611.9,158.9 613.4,159.0 614.9,159.1 616.4,159.3 617.9,159.4 619.4,159.3 620.9,159.3 622.4,159.1 623.9,158.7 625.4,158.2 626.9,157.8 628.4,157.3 629.9,156.7 631.4,156.0 632.9,155.3 634.4,154.7 635.9,154.2 637.4,153.6 638.9,153.0 640.4,152.3 641.9,151.6 643.4,150.9 644.9,150.2 646.4,149.5 647.9,148.9 649.4,148.3 650.9,147.7 652.4,147.1 653.9,146.5 655.4,146.0 656.9,145.4 658.4,144.8 659.9,144.3 661.4,144.0 662.9,143.6 664.4,143.1 665.9,142.7 667.4,142.4 668.9,142.1 670.4,141.7 671.9,141.3 673.4,141.0 674.9,140.7 676.4,140.3 677.9,140.1 679.4,140.0 680.9,140.0 682.4,139.9 683.9,139.6 685.4,139.4 686.8,139.3 688.3,139.2 689.8,139.0 691.3,138.8 692.8,138.7 694.3,138.5 695.8,138.2 697.3,138.0 698.8,137.7 700.3,137.5 701.8,137.4 703.3,137.4 704.8,137.6 706.3,137.9 707.8,138.2 709.3,138.4 710.8,138.6 712.3,138.9 713.8,139.2 715.3,139.5 716.8,139.8 718.3,140.1 719.8,140.4 721.3,140.6 722.8,140.7 724.3,140.9 725.8,141.2 727.3,141.6 728.8,141.9 730.3,142.1 731.8,142.4 733.3,142.7 734.8,142.9 736.3,143.1 737.8,143.3 739.3,143.5 740.8,143.9 742.3,144.2 743.8,144.5 745.3,144.9 746.8,145.4 748.3,145.9 749.8,146.3 751.3,146.7 752.8,147.1 754.3,147.8 755.8,148.3 757.3,148.6 758.8,149.1 760.3,149.8 761.8,150.4 763.3,150.8 764.8,151.2 766.3,151.5 767.8,152.0 769.3,152.5 770.8,153.0 772.3,153.6 773.8,153.9 775.3,154.2 776.8,154.7 778.3,155.2 779.8,155.6 781.2,155.8 782.7,156.1 784.2,156.4 785.7,156.7 787.2,157.1 788.7,157.4 790.2,157.7 791.7,157.8 793.2,157.8 794.7,158.0 796.2,158.0 797.7,158.1 799.2,158.2 800.7,158.2 802.2,158.2 803.7,158.3 805.2,158.2 806.7,158.2 808.2,158.2 809.7,158.1 811.2,157.9 812.7,157.7 814.2,157.6 815.7,157.4 817.2,157.1 818.7,156.8 820.2,156.3 821.7,155.7 823.2,155.2 824.7,154.9 826.2,154.5 827.7,154.2 829.2,153.8 830.7,153.5 832.2,153.2 833.7,152.9 835.2,152.7 836.7,152.3 838.2,152.0 839.7,151.7 841.2,151.5 842.7,151.4 844.2,151.3 845.7,151.0 847.2,150.7 848.7,150.5 850.2,150.3 851.7,150.3 853.2,150.1 854.7,149.9 856.2,149.8 857.7,149.6 859.2,149.4 860.7,149.3 862.2,149.0 863.7,148.6 865.2,148.5 866.7,148.4 868.2,148.2 869.7,147.9 871.2,147.7 872.7,147.5 874.2,147.2 875.6,146.9 877.1,146.8 878.6,146.6 880.1,146.4 881.6,146.3 883.1,146.1 884.6,145.8 886.1,145.6 887.6,145.3 889.1,145.1 890.6,144.8 892.1,144.6 893.6,144.3 895.1,144.1 896.6,144.1 898.1,143.9 899.6,143.6 901.1,143.4 902.6,143.2 904.1,143.0 905.6,142.9 907.1,142.8 908.6,142.7 910.1,142.6 911.6,142.5 913.1,142.5 914.6,142.5 916.1,142.4 917.6,142.4 919.1,142.4 920.6,142.3 922.1,142.4 923.6,142.4 925.1,142.4 926.6,142.4 928.1,142.4 929.6,142.5 931.1,142.5 932.6,142.5 934.1,142.5 935.6,142.6 937.1,142.7 938.6,142.8 940.1,142.8 941.6,142.8 943.1,142.9 944.6,143.1 946.1,143.2 947.6,143.4 949.1,143.5 950.6,143.6 952.1,143.7 953.6,144.0 955.1,144.1 956.6,144.3 958.1,144.6 959.6,144.9 961.1,145.1 962.6,145.3 964.1,145.3 965.6,145.5 967.1,145.7 968.6,146.0 970.0,146.2 971.5,146.5 973.0,146.6 974.5,146.8 976.0,147.1 977.5,147.4 979.0,147.6 980.5,147.7 982.0,148.0 983.5,148.2 985.0,148.5 986.5,148.8 988.0,149.1 989.5,149.3 991.0,149.6 992.5,149.8 994.0,150.0 995.5,150.2 997.0,150.5 998.5,150.6 1000.0,150.7 1001.5,150.8 1003.0,151.0 1004.5,151.0 1006.0,151.2 1007.5,151.3 1009.0,151.3 1010.5,151.3 1012.0,151.5 1013.5,151.6 1015.0,151.7 1016.5,151.8" stroke="#1a9696" stroke-width="4.5"/>
<path class="curve" d="M72.5,303.8 74.0,303.3 75.5,302.8 77.0,302.5 78.5,302.0 80.0,301.6 81.5,301.1 83.0,300.6 84.5,300.2 86.0,299.7 87.5,299.1 89.0,298.7 90.5,298.3 92.0,297.8 93.5,297.3 95.0,296.8 96.5,296.3 98.0,295.9 99.5,295.4 101.0,295.0 102.5,294.5 104.0,294.0 105.5,293.5 107.0,292.9 108.5,292.3 110.0,291.6 111.5,290.9 113.0,290.2 114.5,289.6 116.0,288.8 117.5,288.1 119.0,287.4 120.4,286.8 121.9,286.0 123.4,285.3 124.9,284.7 126.4,284.1 127.9,283.5 129.4,282.7 130.9,281.9 132.4,281.1 133.9,280.4 135.4,279.6 136.9,278.6 138.4,277.4 139.9,276.2 141.4,274.7 142.9,272.9 144.4,270.8 145.9,268.5 147.4,265.7 148.9,262.4 150.4,258.5 151.9,254.2 153.4,249.5 154.9,244.4 156.4,239.1 157.9,234.6 159.4,230.9 160.9,229.4 162.4,231.8 163.9,234.3 165.4,235.4 166.9,235.4 168.4,234.9 169.9,233.8 171.4,231.6 172.9,229.3 174.4,226.8 175.9,224.3 177.4,221.8 178.9,219.3 180.4,216.8 181.9,214.4 183.4,212.0 184.9,209.3 186.4,206.8 187.9,204.6 189.4,202.4 190.9,200.3 192.4,198.3 193.9,196.9 195.4,196.2 196.9,196.5 198.4,197.0 199.9,197.5 201.4,198.1 202.9,198.9 204.4,199.6 205.9,200.2 207.4,201.0 208.9,201.6 210.4,201.6 211.9,201.3 213.4,200.8 214.8,200.1 216.3,199.0 217.8,197.6 219.3,195.7 220.8,193.2 222.3,190.0 223.8,186.3 225.3,182.7 226.8,179.5 228.3,176.6 229.8,174.1 231.3,172.4 232.8,172.5 234.3,173.6 235.8,175.4 237.3,178.2 238.8,181.4 240.3,184.4 241.8,187.2 243.3,189.9 244.8,192.4 246.3,194.7 247.8,196.7 249.3,198.3 250.8,199.6 252.3,200.7 253.8,201.6 255.3,202.2 256.8,202.7 258.3,203.2 259.8,203.8 261.3,204.1 262.8,204.3 264.3,204.6 265.8,204.7 267.3,204.7 268.8,204.8 270.3,204.9 271.8,204.7 273.3,204.5 274.8,204.3 276.3,204.0 277.8,203.6 279.3,203.2 280.8,202.4 282.3,201.6 283.8,200.8 285.3,199.9 286.8,198.7 288.3,197.3 289.8,195.4 291.3,193.0 292.8,190.5 294.3,188.2 295.8,185.7 297.3,183.1 298.8,180.6 300.3,178.2 301.8,175.8 303.3,173.4 304.8,171.0 306.3,168.4 307.8,165.9 309.2,163.7 310.7,162.0 312.2,160.2 313.7,158.4 315.2,156.9 316.7,155.5 318.2,154.2 319.7,153.0 321.2,152.1 322.7,151.6 324.2,151.0 325.7,150.4 327.2,149.7 328.7,148.7 330.2,147.7 331.7,146.8 333.2,145.9 334.7,145.0 336.2,143.9 337.7,142.7 339.2,141.6 340.7,140.5 342.2,139.3 343.7,138.0 345.2,136.6 346.7,135.0 348.2,133.3 349.7,131.6 351.2,129.9 352.7,128.1 354.2,126.3 355.7,124.6 357.2,122.8 358.7,121.0 360.2,119.1 361.7,117.4 363.2,116.4 364.7,117.6 366.2,119.4 367.7,120.4 369.2,121.2 370.7,121.4 372.2,120.9 373.7,120.3 375.2,119.6 376.7,118.9 378.2,118.3 379.7,117.7 381.2,117.1 382.7,116.6 384.2,116.1 385.7,115.7 387.2,115.2 388.7,114.6 390.2,114.0 391.7,113.5 393.2,113.0 394.7,112.7 396.2,112.2 397.7,111.8 399.2,112.2 400.7,113.3 402.2,114.7 403.6,116.0 405.1,117.6 406.6,119.3 408.1,120.9 409.6,122.2 411.1,123.3 412.6,124.3 414.1,125.3 415.6,126.3 417.1,127.3 418.6,128.1 420.1,129.0 421.6,129.6 423.1,129.9 424.6,130.2 426.1,129.9 427.6,129.0 429.1,127.7 430.6,125.9 432.1,124.1 433.6,122.5 435.1,121.6 436.6,121.0 438.1,120.7 439.6,121.0 441.1,121.5 442.6,122.0 444.1,122.7 445.6,123.5 447.1,124.5 448.6,125.5 450.1,126.3 451.6,126.9 453.1,127.4 454.6,127.8 456.1,127.9 457.6,127.9 459.1,128.0 460.6,127.9 462.1,127.6 463.6,127.3 465.1,126.9 466.6,126.5 468.1,126.0 469.6,125.5 471.1,125.0 472.6,124.5 474.1,124.0 475.6,123.5 477.1,122.8 478.6,121.9 480.1,121.1 481.6,120.4 483.1,119.6 484.6,118.7 486.1,117.7 487.6,116.9 489.1,116.0 490.6,114.9 492.1,113.9 493.6,113.0 495.1,112.1 496.6,111.1 498.0,110.0 499.5,109.0 501.0,107.9 502.5,106.9 504.0,106.0 505.5,105.1 507.0,104.2 508.5,103.3 510.0,102.5 511.5,101.7 513.0,100.9 514.5,100.1 516.0,99.4 517.5,98.8 519.0,98.3 520.5,97.5 522.0,96.9 523.5,96.5 525.0,96.1 526.5,95.7 528.0,95.2 529.5,94.8 531.0,94.6 532.5,94.5 534.0,94.4 535.5,94.4 537.0,94.3 538.5,94.1 540.0,94.0 541.5,93.9 543.0,93.9 544.5,93.9 546.0,94.0 547.5,94.1 549.0,94.1 550.5,94.1 552.0,94.3 553.5,94.5 555.0,94.6 556.5,94.7 558.0,95.0 559.5,95.4 561.0,95.7 562.5,96.0 564.0,96.4 565.5,96.8 567.0,97.0 568.5,97.2 570.0,97.4 571.5,97.6 573.0,97.8 574.5,98.0 576.0,98.1 577.5,98.3 579.0,98.5 580.5,98.6 582.0,98.5 583.5,98.4 585.0,98.3 586.5,98.2 588.0,98.1 589.5,98.1 591.0,98.0 592.4,97.9 593.9,98.0 595.4,98.1 596.9,98.3 598.4,98.5 599.9,98.8 601.4,99.0 602.9,99.1 604.4,99.3 605.9,99.7 607.4,100.0 608.9,100.2 610.4,100.5 611.9,100.9 613.4,101.2 614.9,101.5 616.4,101.9 617.9,102.2 619.4,102.4 620.9,102.6 622.4,102.8 623.9,102.9 625.4,102.9 626.9,103.1 628.4,103.3 629.9,103.4 631.4,103.3 632.9,103.3 634.4,103.4 635.9,103.5 637.4,103.5 638.9,103.4 640.4,103.3 641.9,103.0 643.4,102.7 644.9,102.4 646.4,102.0 647.9,101.6 649.4,101.3 650.9,100.9 652.4,100.4 653.9,99.9 655.4,99.4 656.9,98.9 658.4,98.2 659.9,97.6 661.4,97.2 662.9,96.6 664.4,96.0 665.9,95.4 667.4,95.0 668.9,94.6 670.4,94.1 671.9,93.6 673.4,93.1 674.9,92.7 676.4,92.1 677.9,91.7 679.4,91.4 680.9,91.1 682.4,90.7 683.9,90.1 685.4,89.7 686.8,89.4 688.3,89.0 689.8,88.5 691.3,88.2 692.8,88.0 694.3,87.6 695.8,87.4 697.3,87.2 698.8,87.0 700.3,86.9 701.8,86.9 703.3,86.9 704.8,87.0 706.3,87.2 707.8,87.3 709.3,87.2 710.8,87.1 712.3,87.2 713.8,87.2 715.3,87.3 716.8,87.5 718.3,87.6 719.8,87.7 721.3,87.7 722.8,87.7 724.3,87.7 725.8,87.9 727.3,88.2 728.8,88.3 730.3,88.4 731.8,88.5 733.3,88.6 734.8,88.8 736.3,88.9 737.8,89.1 739.3,89.2 740.8,89.6 742.3,89.9 743.8,90.3 745.3,90.7 746.8,91.1 748.3,91.6 749.8,91.9 751.3,92.1 752.8,92.5 754.3,93.1 755.8,93.5 757.3,93.7 758.8,94.1 760.3,94.7 761.8,95.2 763.3,95.6 764.8,95.8 766.3,96.1 767.8,96.4 769.3,96.9 770.8,97.5 772.3,98.1 773.8,98.5 775.3,98.9 776.8,99.4 778.3,100.0 779.8,100.5 781.2,100.8 782.7,101.1 784.2,101.4 785.7,101.7 787.2,102.1 788.7,102.5 790.2,102.7 791.7,102.8 793.2,102.8 794.7,103.0 796.2,103.0 797.7,103.1 799.2,103.2 800.7,103.1 802.2,103.1 803.7,103.1 805.2,103.0 806.7,102.9 808.2,102.8 809.7,102.6 811.2,102.3 812.7,102.1 814.2,102.0 815.7,101.7 817.2,101.4 818.7,101.1 820.2,100.6 821.7,99.9 823.2,99.5 824.7,99.1 826.2,98.7 827.7,98.4 829.2,98.1 830.7,97.8 832.2,97.5 833.7,97.2 835.2,97.0 836.7,96.8 838.2,96.4 839.7,96.2 841.2,96.1 842.7,96.1 844.2,96.1 845.7,96.0 847.2,95.8 848.7,95.6 850.2,95.6 851.7,95.6 853.2,95.6 854.7,95.5 856.2,95.4 857.7,95.3 859.2,95.2 860.7,95.2 862.2,95.1 863.7,94.9 865.2,94.8 866.7,94.9 868.2,94.9 869.7,94.7 871.2,94.7 872.7,94.7 874.2,94.5 875.6,94.4 877.1,94.3 878.6,94.3 880.1,94.3 881.6,94.3 883.1,94.2 884.6,94.1 886.1,94.0 887.6,93.9 889.1,93.7 890.6,93.6 892.1,93.5 893.6,93.4 895.1,93.3 896.6,93.4 898.1,93.3 899.6,93.2 901.1,93.1 902.6,93.0 904.1,92.9 905.6,92.9 907.1,92.9 908.6,92.8 910.1,92.8 911.6,92.8 913.1,92.9 914.6,93.1 916.1,93.1 917.6,93.1 919.1,93.2 920.6,93.3 922.1,93.4 923.6,93.5 925.1,93.5 926.6,93.6 928.1,93.6 929.6,93.7 931.1,93.8 932.6,93.8 934.1,93.9 935.6,94.0 937.1,94.2 938.6,94.3 940.1,94.3 941.6,94.3 943.1,94.5 944.6,94.6 946.1,94.7 947.6,94.8 949.1,94.9 950.6,94.9 952.1,95.1 953.6,95.3 955.1,95.4 956.6,95.6 958.1,95.9 959.6,96.2 961.1,96.4 962.6,96.5 964.1,96.6 965.6,96.7 967.1,97.0 968.6,97.2 970.0,97.5 971.5,97.7 973.0,97.9 974.5,98.1 976.0,98.4 977.5,98.6 979.0,98.8 980.5,99.0 982.0,99.1 983.5,99.3 985.0,99.5 986.5,99.8 988.0,99.9 989.5,100.0 991.0,100.2 992.5,100.3 994.0,100.5 995.5,100.7 997.0,100.8 998.5,100.9 1000.0,100.9 1001.5,101.0 1003.0,101.1 1004.5,101.1 1006.0,101.2 1007.5,101.3 1009.0,101.2 1010.5,101.2 1012.0,101.2 1013.5,101.3 1015.0,101.3 1016.5,101.3" stroke="#a0651c" stroke-width="4.5"/>
<path class="curve" d="M72.5,265.7 74.0,265.1 75.5,264.8 77.0,264.8 78.5,264.5 80.0,264.1 81.5,263.6 83.0,263.1 84.5,262.9 86.0,262.2 87.5,261.4 89.0,261.2 90.5,260.8 92.0,260.1 93.5,259.5 95.0,258.8 96.5,258.2 98.0,257.8 99.5,257.4 101.0,257.1 102.5,256.8 104.0,256.2 105.5,255.8 107.0,255.4 108.5,254.8 110.0,254.0 111.5,253.1 113.0,252.4 114.5,251.8 116.0,250.7 117.5,249.7 119.0,249.1 120.4,248.4 121.9,247.4 123.4,246.4 124.9,246.0 126.4,245.8 127.9,245.3 129.4,244.3 130.9,243.1 132.4,241.9 133.9,241.1 135.4,240.8 136.9,239.9 138.4,238.6 139.9,237.3 141.4,236.0 142.9,234.5 144.4,232.8 145.9,230.8 147.4,228.4 148.9,225.3 150.4,221.5 151.9,216.8 153.4,211.6 154.9,205.4 156.4,198.8 157.9,194.4 159.4,193.1 160.9,193.8 162.4,194.7 163.9,195.8 165.4,196.5 166.9,196.2 168.4,195.3 169.9,193.7 171.4,191.4 172.9,189.3 174.4,187.1 175.9,184.8 177.4,182.5 178.9,180.4 180.4,178.4 181.9,176.6 183.4,174.7 184.9,172.1 186.4,169.5 187.9,167.4 189.4,165.7 190.9,164.3 192.4,163.3 193.9,162.3 195.4,161.8 196.9,161.7 198.4,162.1 199.9,162.9 201.4,163.7 202.9,164.3 204.4,164.4 205.9,164.1 207.4,164.2 208.9,164.0 210.4,163.1 211.9,162.1 213.4,161.7 214.8,161.1 216.3,160.1 217.8,158.7 219.3,156.9 220.8,154.8 222.3,151.4 223.8,145.9 225.3,138.6 226.8,132.8 228.3,128.2 229.8,124.3 231.3,121.4 232.8,121.0 234.3,123.0 235.8,126.9 237.3,131.8 238.8,136.4 240.3,139.8 241.8,143.2 243.3,146.8 244.8,149.8 246.3,152.7 247.8,155.3 249.3,157.1 250.8,158.6 252.3,159.9 253.8,161.0 255.3,161.6 256.8,162.2 258.3,163.0 259.8,163.7 261.3,164.0 262.8,163.6 264.3,163.5 265.8,163.5 267.3,163.2 268.8,163.5 270.3,164.0 271.8,163.8 273.3,163.7 274.8,164.1 276.3,164.2 277.8,164.3 279.3,164.4 280.8,163.8 282.3,163.1 283.8,162.5 285.3,161.7 286.8,160.6 288.3,159.4 289.8,157.4 291.3,154.6 292.8,152.4 294.3,150.3 295.8,147.7 297.3,144.7 298.8,142.1 300.3,139.5 301.8,136.9 303.3,134.4 304.8,131.9 306.3,129.0 307.8,125.8 309.2,123.3 310.7,121.7 312.2,120.0 313.7,118.2 315.2,117.0 316.7,116.2 318.2,114.9 319.7,113.2 321.2,112.1 322.7,111.5 324.2,110.3 325.7,109.2 327.2,108.4 328.7,107.1 330.2,105.7 331.7,104.9 333.2,104.1 334.7,103.4 336.2,102.9 337.7,102.2 339.2,102.0 340.7,101.3 342.2,99.5 343.7,97.7 345.2,95.8 346.7,93.7 348.2,91.3 349.7,89.1 351.2,87.4 352.7,85.1 354.2,82.9 355.7,81.1 357.2,79.3 358.7,77.3 360.2,75.2 361.7,73.4 363.2,72.5 364.7,73.5 366.2,74.9 367.7,76.0 369.2,77.2 370.7,77.6 372.2,77.4 373.7,77.0 375.2,76.2 376.7,75.2 378.2,74.9 379.7,74.5 381.2,73.9 382.7,73.6 384.2,73.5 385.7,73.7 387.2,73.6 388.7,72.9 390.2,72.4 391.7,71.8 393.2,71.5 394.7,71.5 396.2,71.0 397.7,70.7 399.2,71.3 400.7,72.4 402.2,73.7 403.6,74.6 405.1,76.0 406.6,78.0 408.1,79.7 409.6,81.3 411.1,82.7 412.6,84.3 414.1,86.2 415.6,87.9 417.1,89.1 418.6,90.1 420.1,91.3 421.6,91.8 423.1,91.6 424.6,91.2 426.1,90.4 427.6,88.7 429.1,86.3 430.6,84.1 432.1,82.6 433.6,81.1 435.1,80.4 436.6,80.5 438.1,80.9 439.6,82.0 441.1,83.6 442.6,85.0 444.1,86.2 445.6,87.2 447.1,88.3 448.6,89.6 450.1,90.4 451.6,90.8 453.1,91.4 454.6,91.9 456.1,91.6 457.6,91.6 459.1,92.0 460.6,92.0 462.1,91.5 463.6,90.7 465.1,89.6 466.6,88.9 468.1,88.0 469.6,86.9 471.1,86.1 472.6,85.2 474.1,84.4 475.6,84.0 477.1,83.0 478.6,81.4 480.1,80.4 481.6,80.2 483.1,79.7 484.6,78.5 486.1,77.4 487.6,76.8 489.1,75.8 490.6,74.3 492.1,73.1 493.6,72.7 495.1,72.1 496.6,71.1 498.0,69.9 499.5,68.6 501.0,67.4 502.5,66.5 504.0,65.7 505.5,64.8 507.0,64.0 508.5,63.0 510.0,62.2 511.5,61.5 513.0,60.5 514.5,59.6 516.0,59.0 517.5,58.6 519.0,58.1 520.5,56.9 522.0,55.8 523.5,55.4 525.0,54.9 526.5,54.0 528.0,52.9 529.5,52.1 531.0,51.7 532.5,51.3 534.0,51.2 535.5,51.4 537.0,51.3 538.5,50.7 540.0,50.3 541.5,50.2 543.0,50.0 544.5,50.1 546.0,50.6 547.5,51.1 549.0,51.0 550.5,50.8 552.0,51.4 553.5,52.1 555.0,52.0 556.5,51.7 558.0,52.2 559.5,52.8 561.0,53.0 562.5,53.5 564.0,54.4 565.5,55.1 567.0,55.3 568.5,55.2 570.0,54.9 571.5,54.9 573.0,54.9 574.5,54.8 576.0,54.6 577.5,54.5 579.0,54.7 580.5,54.7 582.0,54.1 583.5,53.9 585.0,53.9 586.5,53.8 588.0,53.9 589.5,54.0 591.0,53.4 592.4,52.3 593.9,51.9 595.4,52.1 596.9,52.6 598.4,53.3 599.9,53.9 601.4,54.2 602.9,54.3 604.4,54.6 605.9,55.2 607.4,55.7 608.9,55.6 610.4,55.9 611.9,56.6 613.4,56.9 614.9,57.2 616.4,58.0 617.9,58.6 619.4,59.0 620.9,59.7 622.4,60.4 623.9,60.6 625.4,60.9 626.9,61.6 628.4,62.5 629.9,62.8 631.4,62.5 632.9,62.3 634.4,62.4 635.9,62.7 637.4,62.8 638.9,62.5 640.4,61.9 641.9,61.4 643.4,60.9 644.9,60.1 646.4,59.4 647.9,59.1 649.4,59.0 650.9,58.7 652.4,58.1 653.9,57.5 655.4,57.2 656.9,56.6 658.4,55.7 659.9,55.1 661.4,54.9 662.9,54.6 664.4,53.8 665.9,53.1 667.4,53.0 668.9,52.8 670.4,52.2 671.9,51.4 673.4,51.0 674.9,50.6 676.4,49.9 677.9,49.5 679.4,49.6 680.9,49.7 682.4,48.9 683.9,47.4 685.4,46.3 686.8,45.7 688.3,45.0 689.8,44.3 691.3,44.1 692.8,44.3 694.3,44.1 695.8,43.8 697.3,43.8 698.8,43.7 700.3,43.6 701.8,43.5 703.3,43.7 704.8,44.0 706.3,44.4 707.8,44.5 709.3,44.2 710.8,43.9 712.3,44.1 713.8,44.2 715.3,44.4 716.8,44.9 718.3,45.3 719.8,45.7 721.3,45.8 722.8,45.6 724.3,45.7 725.8,46.3 727.3,47.4 728.8,47.9 730.3,47.9 731.8,48.0 733.3,47.7 734.8,47.1 736.3,46.6 737.8,45.9 739.3,45.3 740.8,45.4 742.3,45.5 743.8,45.4 745.3,45.6 746.8,46.3 748.3,47.2 749.8,47.6 751.3,47.7 752.8,48.5 754.3,49.8 755.8,50.5 757.3,50.7 758.8,51.4 760.3,52.8 761.8,53.8 763.3,54.3 764.8,54.3 766.3,54.4 767.8,55.0 769.3,55.6 770.8,56.5 772.3,57.5 773.8,57.8 775.3,57.7 776.8,58.2 778.3,59.1 779.8,59.4 781.2,59.1 782.7,59.0 784.2,59.2 785.7,59.4 787.2,59.9 788.7,60.5 790.2,60.7 791.7,60.5 793.2,60.2 794.7,60.3 796.2,60.3 797.7,60.4 799.2,60.8 800.7,60.9 802.2,61.0 803.7,61.2 805.2,61.3 806.7,61.3 808.2,61.5 809.7,61.4 811.2,60.8 812.7,60.5 814.2,60.2 815.7,59.6 817.2,58.9 818.7,58.5 820.2,57.6 821.7,56.4 823.2,55.8 824.7,55.6 826.2,55.4 827.7,54.9 829.2,54.3 830.7,53.7 832.2,52.9 833.7,52.3 835.2,51.9 836.7,51.1 838.2,50.1 839.7,49.4 841.2,48.9 842.7,49.0 844.2,49.0 845.7,48.6 847.2,48.1 848.7,48.0 850.2,48.3 851.7,48.8 853.2,49.0 854.7,49.0 856.2,49.2 857.7,49.3 859.2,49.4 860.7,49.6 862.2,49.5 863.7,49.2 865.2,49.5 866.7,50.1 868.2,50.3 869.7,50.2 871.2,50.4 872.7,50.7 874.2,50.6 875.6,50.6 877.1,51.0 878.6,51.5 880.1,51.8 881.6,52.1 883.1,52.2 884.6,51.9 886.1,51.8 887.6,51.6 889.1,51.2 890.6,50.9 892.1,50.5 893.6,50.1 895.1,50.0 896.6,50.5 898.1,50.6 899.6,50.2 901.1,50.0 902.6,49.9 904.1,49.6 905.6,49.6 907.1,49.6 908.6,49.4 910.1,49.2 911.6,49.1 913.1,49.3 914.6,49.4 916.1,49.2 917.6,49.0 919.1,49.0 920.6,48.9 922.1,49.1 923.6,49.2 925.1,49.2 926.6,49.3 928.1,49.3 929.6,49.5 931.1,49.6 932.6,49.6 934.1,49.7 935.6,50.0 937.1,50.4 938.6,50.7 940.1,50.7 941.6,50.5 943.1,50.9 944.6,51.3 946.1,51.4 947.6,51.6 949.1,51.6 950.6,51.3 952.1,51.5 953.6,51.9 955.1,52.1 956.6,52.2 958.1,52.9 959.6,53.6 961.1,53.9 962.6,53.8 964.1,53.5 965.6,53.6 967.1,54.1 968.6,54.4 970.0,54.6 971.5,55.1 973.0,55.2 974.5,55.3 976.0,55.8 977.5,56.2 979.0,56.4 980.5,56.4 982.0,56.7 983.5,56.9 985.0,57.1 986.5,57.6 988.0,57.8 989.5,57.8 991.0,58.1 992.5,58.1 994.0,58.2 995.5,58.6 997.0,58.9 998.5,58.9 1000.0,58.8 1001.5,58.9 1003.0,59.0 1004.5,58.7 1006.0,58.9 1007.5,59.0 1009.0,58.5 1010.5,58.4 1012.0,58.7 1013.5,58.9 1015.0,58.9 1016.5,58.9" stroke="#0eca3c" stroke-width="4.5"/>
<text class="tick" x="126.5" y="830.4">1020</text>
<text class="tick" x="260.1" y="830.4">1035</text>
<text class="tick" x="393.8" y="830.4">1050</text>
<text class="tick" x="527.5" y="830.4">1065</text>
<text class="tick" x="661.1" y="830.4">1080</text>
<text class="tick" x="794.8" y="830.4">1095</text>
<text class="tick" x="928.4" y="830.4">1110</text>
<text class="ttl" x="243.6" y="893.5">Photon energy (eV)</text>
<text class="ttl" transform="translate(44,803) rotate(-90)">Normalized <tspan dx="-1.5" style="letter-spacing:-0.25px">absorption</tspan> <tspan dx="1.25">x</tspan><tspan dx="-0.3" style="font-family:'Liberation Serif','DejaVu Serif',serif;font-weight:400;font-size:66px;stroke:#000;stroke-width:1px">μ</tspan><tspan dx="-0.7">(E)</tspan></text>
<text x="78.7" y="69.6" style="font-size:40px;stroke:#000;stroke-width:0.5px">Zn <tspan style="font-style:italic">L</tspan><tspan style="font-size:23.5px" dy="13.5">32</tspan><tspan dy="-13.5"> edge</tspan></text>
<text class="pk" x="115.94999999999999" y="697.8">b1</text>
<text class="pk" x="182.2" y="624.8">b2</text>
<text class="pk" x="230.6" y="636.6">b3</text>
<text class="pk" x="137.75" y="403.4">b4</text>
<text class="pk" x="133.7" y="180.7">b5</text>
<text class="pk" x="175.29999999999998" y="148.5">b6</text>
<text class="pk" x="213.15" y="108.7">b7</text>
<text class="pk" x="340.0" y="67.0">b8</text>
<text class="lab" text-anchor="end" x="1006.75" y="79.6">60NZ900</text>
<text class="lab" text-anchor="end" x="1000.1999999999999" y="128.9">60NZ800</text>
<text class="lab" text-anchor="end" x="990.5" y="171.3">60NZ700</text>
<text class="lab" text-anchor="end" x="995.3" y="211.7">40NZ900</text>
<text class="lab" text-anchor="end" x="992.9" y="245.5">40NZ800</text>
<text class="lab" text-anchor="end" x="991.3" y="275.7">40NZ700</text>
<text class="lab" text-anchor="end" x="991.6999999999999" y="308.5">20NZ900</text>
<text class="lab" text-anchor="end" x="992.9" y="341.6">20NZ800</text>
<text class="lab" text-anchor="end" x="992.5" y="373.7">20NZ700</text>
<text class="lab" text-anchor="end" x="985.8" y="412.1">5NZ900</text>
<text class="lab" text-anchor="end" x="980.5" y="459.9">5NZ800</text>
<text class="lab" text-anchor="end" x="982.6999999999999" y="497.6">5NZ700</text>
<text class="lab" text-anchor="end" x="973.5999999999999" y="538.8">Zn900</text>
<text class="lab" text-anchor="end" x="979.9" y="577.1">Zn700</text>
<line x1="100.0" y1="225.0" x2="130.6" y2="208.4" stroke="#000" stroke-width="1.4"/><polygon points="148.2,198.9 133.2,213.3 128.0,203.6" fill="#000"/>
<line x1="104.3" y1="366.1" x2="131.5" y2="352.5" stroke="#000" stroke-width="1.4"/><polygon points="148.5,344.0 134.0,357.4 129.0,347.6" fill="#000"/>
<line x1="265.0" y1="78.0" x2="253.2" y2="101.3" stroke="#000" stroke-width="1.4"/><polygon points="244.6,118.2 248.3,98.8 258.1,103.7" fill="#000"/>
<line x1="265.6" y1="209.2" x2="261.3" y2="212.4" stroke="#000" stroke-width="1.4"/><polygon points="245.2,224.2 258.2,208.1 264.4,216.6" fill="#000"/>
</svg></body></html>
